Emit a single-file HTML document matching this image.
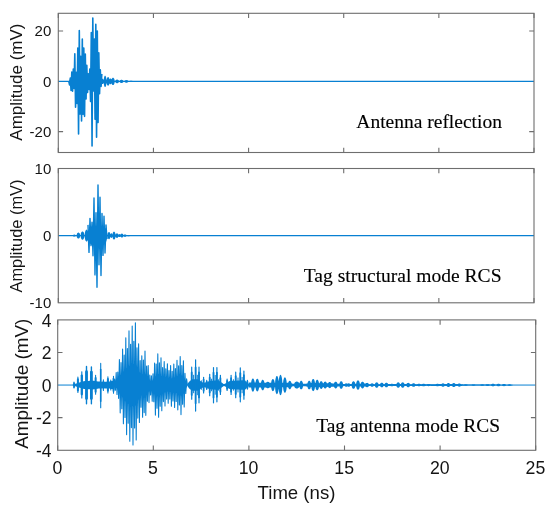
<!DOCTYPE html>
<html><head><meta charset="utf-8"><title>Antenna reflection and tag RCS</title><style>
html,body{margin:0;padding:0;background:#fff;}
svg{display:block;}
</style></head><body>
<svg width="550" height="509" viewBox="0 0 550 509">
<rect width="550" height="509" fill="#fff"/>
<path d="M58.30,81.40H534.00" stroke="#0880D2" stroke-width="1.2" fill="none"/>
<path d="M101.40,81.40 101.60,79.91 101.80,79.39 102.00,79.06 102.20,78.85 102.40,78.74 102.60,78.70 102.80,78.74 103.00,78.85 103.20,79.06 103.40,79.39 103.60,79.91 103.80,79.28 104.00,77.87 104.20,77.03 104.40,76.46 104.60,76.08 104.80,75.83 105.00,75.71 105.20,75.71 105.40,75.83 105.60,76.08 105.80,76.46 106.00,77.03 106.20,77.87 106.40,79.28 106.60,79.90 106.80,78.89 107.00,78.28 107.20,77.84 107.40,77.53 107.60,77.32 107.80,77.18 108.00,77.11 108.20,77.11 108.40,77.18 108.60,77.32 108.80,77.53 109.00,77.84 109.20,78.28 109.40,78.89 109.60,79.31 109.80,78.96 110.00,78.72 110.20,78.58 110.40,78.51 110.60,78.51 110.80,78.58 111.00,78.72 111.20,78.96 111.40,79.31 111.60,79.30 111.80,78.78 112.00,78.41 112.20,78.14 112.40,77.94 112.60,77.80 112.80,77.73 113.00,77.70 113.20,77.73 113.40,77.80 113.60,77.94 113.80,78.14 114.00,78.41 114.20,78.78 114.40,79.30 114.60,80.15 114.80,81.40 114.80,81.40 114.60,82.65 114.40,83.50 114.20,84.02 114.00,84.39 113.80,84.66 113.60,84.86 113.40,85.00 113.20,85.07 113.00,85.10 112.80,85.07 112.60,85.00 112.40,84.86 112.20,84.66 112.00,84.39 111.80,84.02 111.60,83.50 111.40,83.49 111.20,83.84 111.00,84.08 110.80,84.22 110.60,84.29 110.40,84.29 110.20,84.22 110.00,84.08 109.80,83.84 109.60,83.49 109.40,83.91 109.20,84.52 109.00,84.96 108.80,85.27 108.60,85.48 108.40,85.62 108.20,85.69 108.00,85.69 107.80,85.62 107.60,85.48 107.40,85.27 107.20,84.96 107.00,84.52 106.80,83.91 106.60,82.90 106.40,83.52 106.20,84.93 106.00,85.77 105.80,86.34 105.60,86.72 105.40,86.97 105.20,87.09 105.00,87.09 104.80,86.97 104.60,86.72 104.40,86.34 104.20,85.77 104.00,84.93 103.80,83.52 103.60,82.89 103.40,83.41 103.20,83.74 103.00,83.95 102.80,84.06 102.60,84.10 102.40,84.06 102.20,83.95 102.00,83.74 101.80,83.41 101.60,82.89 101.40,81.40ZM115.20,81.40 115.40,80.60 115.60,80.30 115.80,80.09 116.00,79.93 116.20,79.81 116.40,79.73 116.60,79.66 116.80,79.62 117.00,79.60 117.20,79.60 117.40,79.62 117.60,79.66 117.80,79.73 118.00,79.81 118.20,79.93 118.40,80.09 118.60,80.30 118.80,80.60 119.00,81.40 119.00,81.40 118.80,82.20 118.60,82.50 118.40,82.71 118.20,82.87 118.00,82.99 117.80,83.07 117.60,83.14 117.40,83.18 117.20,83.20 117.00,83.20 116.80,83.18 116.60,83.14 116.40,83.07 116.20,82.99 116.00,82.87 115.80,82.71 115.60,82.50 115.40,82.20 115.20,81.40ZM119.40,81.40 119.60,80.90 119.80,80.56 120.00,80.34 120.20,80.18 120.40,80.06 120.60,79.97 120.80,79.90 121.00,79.85 121.20,79.82 121.40,79.80 121.60,79.80 121.80,79.82 122.00,79.85 122.20,79.90 122.40,79.97 122.60,80.06 122.80,80.18 123.00,80.34 123.20,80.56 123.40,80.90 123.60,81.40 123.60,81.40 123.40,81.90 123.20,82.24 123.00,82.46 122.80,82.62 122.60,82.74 122.40,82.83 122.20,82.90 122.00,82.95 121.80,82.98 121.60,83.00 121.40,83.00 121.20,82.98 121.00,82.95 120.80,82.90 120.60,82.83 120.40,82.74 120.20,82.62 120.00,82.46 119.80,82.24 119.60,81.90 119.40,81.40ZM124.40,81.40 124.60,80.83 124.80,80.62 125.00,80.47 125.20,80.36 125.40,80.27 125.60,80.21 125.80,80.16 126.00,80.13 126.20,80.11 126.40,80.10 126.60,80.11 126.80,80.13 127.00,80.16 127.20,80.21 127.40,80.27 127.60,80.36 127.80,80.47 128.00,80.62 128.20,80.83 128.40,81.40 128.40,81.40 128.20,81.97 128.00,82.18 127.80,82.33 127.60,82.44 127.40,82.53 127.20,82.59 127.00,82.64 126.80,82.67 126.60,82.69 126.40,82.70 126.20,82.69 126.00,82.67 125.80,82.64 125.60,82.59 125.40,82.53 125.20,82.44 125.00,82.33 124.80,82.18 124.60,81.97 124.40,81.40ZM129.00,81.40 129.20,81.09 129.40,80.98 129.60,80.90 129.80,80.84 130.00,80.79 130.20,80.76 130.40,80.73 130.60,80.71 130.80,80.70 131.00,80.70 131.20,80.70 131.40,80.71 131.60,80.73 131.80,80.76 132.00,80.79 132.20,80.84 132.40,80.90 132.60,80.98 132.80,81.09 133.00,81.40 133.00,81.40 132.80,81.71 132.60,81.82 132.40,81.90 132.20,81.96 132.00,82.01 131.80,82.04 131.60,82.07 131.40,82.09 131.20,82.10 131.00,82.10 130.80,82.10 130.60,82.09 130.40,82.07 130.20,82.04 130.00,82.01 129.80,81.96 129.60,81.90 129.40,81.82 129.20,81.71 129.00,81.40Z" fill="#0880D2"/>
<path d="M68.80,81.40 69.05,81.29 69.30,80.72 69.55,80.16 69.80,79.59 70.05,79.02 70.30,78.46 70.55,77.97 70.80,77.78 71.05,77.59 71.30,77.40 71.55,77.21 71.80,77.02 72.05,76.84 72.30,76.65 72.55,76.46 72.80,76.27 73.05,76.08 73.30,75.89 73.55,75.68 73.80,75.38 74.05,75.08 74.30,74.78 74.55,74.47 74.80,74.17 75.05,73.90 75.30,73.73 75.55,73.56 75.80,73.39 76.05,73.25 76.30,73.25 76.55,73.25 76.80,73.25 77.05,73.25 77.30,73.25 77.55,73.25 77.80,73.25 78.05,73.25 78.30,73.25 78.55,73.25 78.80,73.25 79.05,73.25 79.30,73.25 79.55,73.25 79.80,73.25 80.05,73.25 80.30,73.25 80.55,73.25 80.80,73.25 81.05,73.25 81.30,73.25 81.55,73.25 81.80,73.25 82.05,73.25 82.30,73.25 82.55,73.25 82.80,73.25 83.05,73.25 83.30,73.25 83.55,73.25 83.80,73.25 84.05,73.25 84.30,73.25 84.55,73.25 84.80,73.25 85.05,73.25 85.30,73.25 85.55,73.25 85.80,73.25 86.05,73.28 86.30,73.41 86.55,73.55 86.80,73.69 87.05,73.82 87.30,73.96 87.55,74.09 87.80,74.23 88.05,74.37 88.30,74.50 88.55,74.58 88.80,74.41 89.05,74.24 89.30,74.07 89.55,73.90 89.80,73.73 90.05,73.56 90.30,73.39 90.55,73.24 90.80,73.20 91.05,73.16 91.30,73.12 91.55,73.08 91.80,73.04 92.05,73.00 92.30,72.96 92.55,72.91 92.80,72.87 93.05,72.83 93.30,72.79 93.55,72.75 93.80,72.71 94.05,72.67 94.30,72.63 94.55,72.58 94.80,72.54 95.05,72.50 95.30,72.46 95.55,72.42 95.80,72.38 96.05,72.38 96.30,72.54 96.55,72.70 96.80,72.86 97.05,73.03 97.30,73.19 97.55,73.35 97.80,73.51 98.05,73.67 98.30,73.83 98.55,74.00 98.80,74.16 99.05,74.32 99.30,74.48 99.55,74.68 99.80,75.06 100.05,75.44 100.30,75.82 100.55,76.19 100.80,76.57 101.05,76.96 101.30,77.42 101.55,77.87 101.80,78.32 102.05,78.73 102.30,78.96 102.30,83.84 102.05,84.07 101.80,84.48 101.55,84.93 101.30,85.38 101.05,85.84 100.80,86.23 100.55,86.61 100.30,86.98 100.05,87.36 99.80,87.74 99.55,88.12 99.30,88.32 99.05,88.48 98.80,88.64 98.55,88.80 98.30,88.97 98.05,89.13 97.80,89.29 97.55,89.45 97.30,89.61 97.05,89.77 96.80,89.94 96.55,90.10 96.30,90.26 96.05,90.42 95.80,90.42 95.55,90.38 95.30,90.34 95.05,90.30 94.80,90.26 94.55,90.22 94.30,90.17 94.05,90.13 93.80,90.09 93.55,90.05 93.30,90.01 93.05,89.97 92.80,89.93 92.55,89.89 92.30,89.84 92.05,89.80 91.80,89.76 91.55,89.72 91.30,89.68 91.05,89.64 90.80,89.60 90.55,89.56 90.30,89.41 90.05,89.24 89.80,89.07 89.55,88.90 89.30,88.73 89.05,88.56 88.80,88.39 88.55,88.22 88.30,88.30 88.05,88.43 87.80,88.57 87.55,88.71 87.30,88.84 87.05,88.98 86.80,89.11 86.55,89.25 86.30,89.39 86.05,89.52 85.80,89.55 85.55,89.55 85.30,89.55 85.05,89.55 84.80,89.55 84.55,89.55 84.30,89.55 84.05,89.55 83.80,89.55 83.55,89.55 83.30,89.55 83.05,89.55 82.80,89.55 82.55,89.55 82.30,89.55 82.05,89.55 81.80,89.55 81.55,89.55 81.30,89.55 81.05,89.55 80.80,89.55 80.55,89.55 80.30,89.55 80.05,89.55 79.80,89.55 79.55,89.55 79.30,89.55 79.05,89.55 78.80,89.55 78.55,89.55 78.30,89.55 78.05,89.55 77.80,89.55 77.55,89.55 77.30,89.55 77.05,89.55 76.80,89.55 76.55,89.55 76.30,89.55 76.05,89.55 75.80,89.41 75.55,89.24 75.30,89.07 75.05,88.90 74.80,88.63 74.55,88.33 74.30,88.02 74.05,87.72 73.80,87.42 73.55,87.12 73.30,86.91 73.05,86.72 72.80,86.53 72.55,86.34 72.30,86.15 72.05,85.96 71.80,85.78 71.55,85.59 71.30,85.40 71.05,85.21 70.80,85.02 70.55,84.83 70.30,84.34 70.05,83.78 69.80,83.21 69.55,82.64 69.30,82.08 69.05,81.51 68.80,81.40Z" fill="#0880D2"/><polyline points="68.80,81.40 69.55,84.92 70.30,78.13 71.05,90.45 71.80,72.09 72.55,91.21 73.30,69.08 74.05,88.43 74.80,53.73 75.55,107.30 76.30,72.35 77.05,103.53 77.80,47.95 78.55,133.96 79.30,30.60 80.05,114.09 80.80,56.25 81.55,120.89 82.30,39.15 83.05,114.35 83.80,47.95 84.55,116.36 85.30,53.99 86.05,99.01 86.80,65.30 87.55,92.47 88.30,73.73 89.05,89.36 89.80,69.08 90.55,101.52 91.30,32.61 92.05,146.04 92.80,18.02 93.55,91.01 94.30,39.15 95.05,119.12 95.80,24.31 96.55,137.23 97.30,31.10 98.05,122.39 98.80,52.73 99.55,93.72 100.30,69.83 101.05,86.33 101.80,73.86" fill="none" stroke="#0880D2" stroke-width="1.6" stroke-linejoin="round"/>
<path d="M58.30,235.60H534.00" stroke="#0880D2" stroke-width="1.2" fill="none"/>
<path d="M72.80,235.60 73.00,235.10 73.20,234.92 73.40,234.80 73.60,234.72 73.80,234.66 74.00,234.62 74.20,234.60 74.40,234.60 74.60,234.62 74.80,234.66 75.00,234.72 75.20,234.80 75.40,234.92 75.60,235.10 75.80,235.60 75.80,235.60 75.60,236.10 75.40,236.28 75.20,236.40 75.00,236.48 74.80,236.54 74.60,236.58 74.40,236.60 74.20,236.60 74.00,236.58 73.80,236.54 73.60,236.48 73.40,236.40 73.20,236.28 73.00,236.10 72.80,235.60ZM76.60,235.60 76.80,234.23 77.00,233.71 77.20,233.36 77.40,233.11 77.60,232.91 77.80,232.77 78.00,232.68 78.20,232.62 78.40,232.60 78.60,232.62 78.80,232.68 79.00,232.77 79.20,232.91 79.40,233.11 79.60,233.36 79.80,233.71 80.00,234.23 80.20,235.60 80.20,235.60 80.00,236.97 79.80,237.49 79.60,237.84 79.40,238.09 79.20,238.29 79.00,238.43 78.80,238.52 78.60,238.58 78.40,238.60 78.20,238.58 78.00,238.52 77.80,238.43 77.60,238.29 77.40,238.09 77.20,237.84 77.00,237.49 76.80,236.97 76.60,235.60ZM80.60,235.60 80.80,233.77 81.00,233.08 81.20,232.61 81.40,232.26 81.60,231.99 81.80,231.79 82.00,231.64 82.20,231.55 82.40,231.51 82.60,231.51 82.80,231.55 83.00,231.64 83.20,231.79 83.40,231.99 83.60,232.26 83.80,232.61 84.00,233.08 84.20,233.77 84.40,235.60 84.40,235.60 84.20,237.43 84.00,238.12 83.80,238.59 83.60,238.94 83.40,239.21 83.20,239.41 83.00,239.56 82.80,239.65 82.60,239.69 82.40,239.69 82.20,239.65 82.00,239.56 81.80,239.41 81.60,239.21 81.40,238.94 81.20,238.59 81.00,238.12 80.80,237.43 80.60,235.60ZM84.60,235.60 84.80,233.68 85.00,232.36 85.20,231.54 85.40,230.95 85.60,230.50 85.80,230.16 86.00,229.91 86.20,229.73 86.40,229.63 86.60,229.60 86.80,229.63 87.00,229.73 87.20,229.91 87.40,230.16 87.60,230.50 87.80,230.95 88.00,231.54 88.20,232.36 88.40,233.68 88.60,235.60 88.60,235.60 88.40,237.52 88.20,238.84 88.00,239.66 87.80,240.25 87.60,240.70 87.40,241.04 87.20,241.29 87.00,241.47 86.80,241.57 86.60,241.60 86.40,241.57 86.20,241.47 86.00,241.29 85.80,241.04 85.60,240.70 85.40,240.25 85.20,239.66 85.00,238.84 84.80,237.52 84.60,235.60ZM107.60,235.60 107.80,234.18 108.00,233.24 108.20,232.68 108.40,232.32 108.60,232.08 108.80,231.94 109.00,231.90 109.20,231.94 109.40,232.08 109.60,232.32 109.80,232.68 110.00,233.24 110.20,234.18 110.40,234.08 110.60,233.73 110.80,233.51 111.00,233.37 111.20,233.31 111.40,233.31 111.60,233.37 111.80,233.51 112.00,233.73 112.20,234.08 112.40,234.68 112.60,233.66 112.80,232.95 113.00,232.48 113.20,232.14 113.40,231.89 113.60,231.73 113.80,231.63 114.00,231.60 114.20,231.63 114.40,231.73 114.60,231.89 114.80,232.14 115.00,232.48 115.20,232.95 115.40,233.66 115.60,234.77 115.80,234.22 116.00,233.89 116.20,233.65 116.40,233.49 116.60,233.38 116.80,233.32 117.00,233.30 117.20,233.32 117.40,233.38 117.60,233.49 117.80,233.65 118.00,233.89 118.20,234.22 118.40,234.77 118.60,234.52 118.80,234.34 119.00,234.22 119.20,234.14 119.40,234.10 119.60,234.10 119.80,234.14 120.00,234.22 120.20,234.34 120.40,234.52 120.60,234.60 120.80,234.24 121.00,234.00 121.20,233.83 121.40,233.71 121.60,233.64 121.80,233.60 122.00,233.60 122.20,233.64 122.40,233.71 122.60,233.83 122.80,234.00 123.00,234.24 123.20,234.60 123.40,235.60 123.40,235.60 123.20,236.60 123.00,236.96 122.80,237.20 122.60,237.37 122.40,237.49 122.20,237.56 122.00,237.60 121.80,237.60 121.60,237.56 121.40,237.49 121.20,237.37 121.00,237.20 120.80,236.96 120.60,236.60 120.40,236.68 120.20,236.86 120.00,236.98 119.80,237.06 119.60,237.10 119.40,237.10 119.20,237.06 119.00,236.98 118.80,236.86 118.60,236.68 118.40,236.43 118.20,236.98 118.00,237.31 117.80,237.55 117.60,237.71 117.40,237.82 117.20,237.88 117.00,237.90 116.80,237.88 116.60,237.82 116.40,237.71 116.20,237.55 116.00,237.31 115.80,236.98 115.60,236.43 115.40,237.54 115.20,238.25 115.00,238.72 114.80,239.06 114.60,239.31 114.40,239.47 114.20,239.57 114.00,239.60 113.80,239.57 113.60,239.47 113.40,239.31 113.20,239.06 113.00,238.72 112.80,238.25 112.60,237.54 112.40,236.52 112.20,237.12 112.00,237.47 111.80,237.69 111.60,237.83 111.40,237.89 111.20,237.89 111.00,237.83 110.80,237.69 110.60,237.47 110.40,237.12 110.20,237.02 110.00,237.96 109.80,238.52 109.60,238.88 109.40,239.12 109.20,239.26 109.00,239.30 108.80,239.26 108.60,239.12 108.40,238.88 108.20,238.52 108.00,237.96 107.80,237.02 107.60,235.60ZM123.40,235.60 123.60,235.02 123.80,234.81 124.00,234.66 124.20,234.56 124.40,234.49 124.60,234.44 124.80,234.41 125.00,234.40 125.20,234.41 125.40,234.44 125.60,234.49 125.80,234.56 126.00,234.66 126.20,234.81 126.40,235.02 126.60,235.60 126.60,235.60 126.40,236.18 126.20,236.39 126.00,236.54 125.80,236.64 125.60,236.71 125.40,236.76 125.20,236.79 125.00,236.80 124.80,236.79 124.60,236.76 124.40,236.71 124.20,236.64 124.00,236.54 123.80,236.39 123.60,236.18 123.40,235.60ZM126.80,235.60 127.00,235.36 127.20,235.19 127.40,235.09 127.60,235.02 127.80,234.97 128.00,234.94 128.20,234.91 128.40,234.90 128.60,234.90 128.80,234.91 129.00,234.94 129.20,234.97 129.40,235.02 129.60,235.09 129.80,235.19 130.00,235.36 130.20,235.60 130.20,235.60 130.00,235.84 129.80,236.01 129.60,236.11 129.40,236.18 129.20,236.23 129.00,236.26 128.80,236.29 128.60,236.30 128.40,236.30 128.20,236.29 128.00,236.26 127.80,236.23 127.60,236.18 127.40,236.11 127.20,236.01 127.00,235.84 126.80,235.60Z" fill="#0880D2"/>
<path d="M88.00,235.60 88.25,233.71 88.50,231.82 88.75,229.93 89.00,229.28 89.25,228.94 89.50,228.60 89.75,228.25 90.00,227.91 90.25,227.56 90.50,227.22 90.75,226.88 91.00,226.53 91.25,226.53 91.50,226.53 91.75,226.53 92.00,226.53 92.25,226.53 92.50,226.53 92.75,226.53 93.00,226.53 93.25,226.53 93.50,226.53 93.75,226.53 94.00,226.53 94.25,226.53 94.50,226.53 94.75,226.53 95.00,226.53 95.25,226.53 95.50,226.53 95.75,226.53 96.00,226.53 96.25,226.53 96.50,226.53 96.75,226.53 97.00,226.53 97.25,226.53 97.50,226.53 97.75,226.53 98.00,226.53 98.25,226.53 98.50,226.53 98.75,226.53 99.00,226.53 99.25,226.53 99.50,226.53 99.75,226.53 100.00,226.53 100.25,226.53 100.50,226.53 100.75,226.53 101.00,226.53 101.25,226.53 101.50,226.53 101.75,226.53 102.00,226.53 102.25,226.53 102.50,226.53 102.75,226.53 103.00,226.53 103.25,226.53 103.50,226.53 103.75,226.53 104.00,226.53 104.25,226.84 104.50,227.14 104.75,227.44 105.00,227.74 105.25,228.05 105.50,228.35 105.75,228.65 106.00,228.95 106.25,229.86 106.50,230.77 106.75,231.67 107.00,232.58 107.25,233.33 107.50,234.09 107.50,237.11 107.25,237.87 107.00,238.62 106.75,239.53 106.50,240.43 106.25,241.34 106.00,242.25 105.75,242.55 105.50,242.85 105.25,243.15 105.00,243.46 104.75,243.76 104.50,244.06 104.25,244.36 104.00,244.67 103.75,244.67 103.50,244.67 103.25,244.67 103.00,244.67 102.75,244.67 102.50,244.67 102.25,244.67 102.00,244.67 101.75,244.67 101.50,244.67 101.25,244.67 101.00,244.67 100.75,244.67 100.50,244.67 100.25,244.67 100.00,244.67 99.75,244.67 99.50,244.67 99.25,244.67 99.00,244.67 98.75,244.67 98.50,244.67 98.25,244.67 98.00,244.67 97.75,244.67 97.50,244.67 97.25,244.67 97.00,244.67 96.75,244.67 96.50,244.67 96.25,244.67 96.00,244.67 95.75,244.67 95.50,244.67 95.25,244.67 95.00,244.67 94.75,244.67 94.50,244.67 94.25,244.67 94.00,244.67 93.75,244.67 93.50,244.67 93.25,244.67 93.00,244.67 92.75,244.67 92.50,244.67 92.25,244.67 92.00,244.67 91.75,244.67 91.50,244.67 91.25,244.67 91.00,244.67 90.75,244.32 90.50,243.98 90.25,243.64 90.00,243.29 89.75,242.95 89.50,242.60 89.25,242.26 89.00,241.92 88.75,241.27 88.50,239.38 88.25,237.49 88.00,235.60Z" fill="#0880D2"/><polyline points="88.00,224.86 89.00,252.39 90.00,218.34 91.00,245.67 92.00,222.17 93.00,255.75 94.00,198.00 95.00,274.88 96.00,212.77 97.00,287.31 98.00,184.90 99.00,264.81 100.00,197.32 101.00,275.55 102.00,213.44 103.00,255.41 104.00,216.13 105.00,253.06 106.00,224.86 107.00,238.96" fill="none" stroke="#0880D2" stroke-width="1.4" stroke-linejoin="round"/>
<path d="M57.70,385.05H535.70" stroke="#0880D2" stroke-width="1.0" fill="none"/>
<path d="M251.00,385.05 251.20,382.10 251.40,381.00 251.60,380.24 251.80,379.67 252.00,379.24 252.20,378.91 252.40,378.68 252.60,378.53 252.80,378.46 253.00,378.46 253.20,378.53 253.40,378.68 253.60,378.91 253.80,379.24 254.00,379.67 254.20,380.24 254.40,381.00 254.60,382.10 254.80,385.05 254.80,385.05 254.60,388.00 254.40,389.10 254.20,389.86 254.00,390.43 253.80,390.86 253.60,391.19 253.40,391.42 253.20,391.57 253.00,391.64 252.80,391.64 252.60,391.57 252.40,391.42 252.20,391.19 252.00,390.86 251.80,390.43 251.60,389.86 251.40,389.10 251.20,388.00 251.00,385.05ZM255.40,385.05 255.60,382.19 255.80,381.12 256.00,380.38 256.20,379.83 256.40,379.41 256.60,379.10 256.80,378.88 257.00,378.73 257.20,378.66 257.40,378.66 257.60,378.73 257.80,378.88 258.00,379.10 258.20,379.41 258.40,379.83 258.60,380.38 258.80,381.12 259.00,382.19 259.20,385.05 259.20,385.05 259.00,387.91 258.80,388.98 258.60,389.72 258.40,390.27 258.20,390.69 258.00,391.00 257.80,391.22 257.60,391.37 257.40,391.44 257.20,391.44 257.00,391.37 256.80,391.22 256.60,391.00 256.40,390.69 256.20,390.27 256.00,389.72 255.80,388.98 255.60,387.91 255.40,385.05ZM260.80,385.05 261.00,382.68 261.20,381.80 261.40,381.18 261.60,380.73 261.80,380.38 262.00,380.12 262.20,379.94 262.40,379.82 262.60,379.76 262.80,379.76 263.00,379.82 263.20,379.94 263.40,380.12 263.60,380.38 263.80,380.73 264.00,381.18 264.20,381.80 264.40,382.68 264.60,385.05 264.60,385.05 264.40,387.42 264.20,388.30 264.00,388.92 263.80,389.37 263.60,389.72 263.40,389.98 263.20,390.16 263.00,390.28 262.80,390.34 262.60,390.34 262.40,390.28 262.20,390.16 262.00,389.98 261.80,389.72 261.60,389.37 261.40,388.92 261.20,388.30 261.00,387.42 260.80,385.05ZM265.60,385.05 265.80,383.68 266.00,383.15 266.20,382.79 266.40,382.50 266.60,382.28 266.80,382.11 267.00,381.98 267.20,381.88 267.40,381.81 267.60,381.76 267.80,381.75 268.00,381.76 268.20,381.81 268.40,381.88 268.60,381.98 268.80,382.11 269.00,382.28 269.20,382.50 269.40,382.79 269.60,383.15 269.80,383.68 270.00,385.05 270.00,385.05 269.80,386.42 269.60,386.95 269.40,387.31 269.20,387.60 269.00,387.82 268.80,387.99 268.60,388.12 268.40,388.22 268.20,388.29 268.00,388.34 267.80,388.35 267.60,388.34 267.40,388.29 267.20,388.22 267.00,388.12 266.80,387.99 266.60,387.82 266.40,387.60 266.20,387.31 266.00,386.95 265.80,386.42 265.60,385.05ZM271.00,385.05 271.20,382.33 271.40,381.31 271.60,380.60 271.80,380.08 272.00,379.68 272.20,379.38 272.40,379.17 272.60,379.03 272.80,378.96 273.00,378.96 273.20,379.03 273.40,379.17 273.60,379.38 273.80,379.68 274.00,380.08 274.20,380.60 274.40,381.31 274.60,382.33 274.80,385.05 274.80,385.05 274.60,387.77 274.40,388.79 274.20,389.50 274.00,390.02 273.80,390.42 273.60,390.72 273.40,390.93 273.20,391.07 273.00,391.14 272.80,391.14 272.60,391.07 272.40,390.93 272.20,390.72 272.00,390.42 271.80,390.02 271.60,389.50 271.40,388.79 271.20,387.77 271.00,385.05ZM275.00,385.05 275.20,380.99 275.40,379.46 275.60,378.41 275.80,377.63 276.00,377.04 276.20,376.59 276.40,376.27 276.60,376.06 276.80,375.96 277.00,375.96 277.20,376.06 277.40,376.27 277.60,376.59 277.80,377.04 278.00,377.63 278.20,378.41 278.40,379.46 278.60,380.99 278.80,380.49 279.00,378.79 279.20,377.61 279.40,376.73 279.60,376.07 279.80,375.57 280.00,375.21 280.20,374.98 280.40,374.86 280.60,374.86 280.80,374.98 281.00,375.21 281.20,375.57 281.40,376.07 281.60,376.73 281.80,377.61 282.00,378.79 282.20,380.49 282.40,385.05 282.40,385.05 282.20,389.61 282.00,391.31 281.80,392.49 281.60,393.37 281.40,394.03 281.20,394.53 281.00,394.89 280.80,395.12 280.60,395.24 280.40,395.24 280.20,395.12 280.00,394.89 279.80,394.53 279.60,394.03 279.40,393.37 279.20,392.49 279.00,391.31 278.80,389.61 278.60,389.11 278.40,390.64 278.20,391.69 278.00,392.47 277.80,393.06 277.60,393.51 277.40,393.83 277.20,394.04 277.00,394.14 276.80,394.14 276.60,394.04 276.40,393.83 276.20,393.51 276.00,393.06 275.80,392.47 275.60,391.69 275.40,390.64 275.20,389.11 275.00,385.05ZM283.00,385.05 283.20,381.61 283.40,380.32 283.60,379.43 283.80,378.77 284.00,378.27 284.20,377.89 284.40,377.62 284.60,377.45 284.80,377.36 285.00,377.36 285.20,377.45 285.40,377.62 285.60,377.89 285.80,378.27 286.00,378.77 286.20,379.43 286.40,380.32 286.60,381.61 286.80,385.05 286.80,385.05 286.60,388.49 286.40,389.78 286.20,390.67 286.00,391.33 285.80,391.83 285.60,392.21 285.40,392.48 285.20,392.65 285.00,392.74 284.80,392.74 284.60,392.65 284.40,392.48 284.20,392.21 284.00,391.83 283.80,391.33 283.60,390.67 283.40,389.78 283.20,388.49 283.00,385.05ZM287.80,385.05 288.00,383.71 288.20,382.78 288.40,382.21 288.60,381.79 288.80,381.48 289.00,381.24 289.20,381.06 289.40,380.94 289.60,380.87 289.80,380.85 290.00,380.87 290.20,380.94 290.40,381.06 290.60,381.24 290.80,381.48 291.00,381.79 291.20,382.21 291.40,382.78 291.60,383.71 291.80,385.05 291.80,385.05 291.60,386.39 291.40,387.32 291.20,387.89 291.00,388.31 290.80,388.62 290.60,388.86 290.40,389.04 290.20,389.16 290.00,389.23 289.80,389.25 289.60,389.23 289.40,389.16 289.20,389.04 289.00,388.86 288.80,388.62 288.60,388.31 288.40,387.89 288.20,387.32 288.00,386.39 287.80,385.05ZM294.00,385.05 294.20,383.75 294.40,383.25 294.60,382.88 294.80,382.60 295.00,382.37 295.20,382.18 295.40,382.02 295.60,381.89 295.80,381.78 296.00,381.70 296.20,381.63 296.40,381.59 296.60,381.56 296.80,381.55 297.00,381.56 297.20,381.59 297.40,381.63 297.60,381.70 297.80,381.78 298.00,381.89 298.20,382.02 298.40,382.18 298.60,382.37 298.80,382.60 299.00,382.88 299.20,383.25 299.40,383.67 299.60,382.73 299.80,382.14 300.00,381.72 300.20,381.39 300.40,381.15 300.60,380.97 300.80,380.85 301.00,380.77 301.20,380.75 301.40,380.77 301.60,380.85 301.80,380.97 302.00,381.15 302.20,381.39 302.40,381.72 302.60,382.14 302.80,382.73 303.00,383.67 303.20,385.05 303.20,385.05 303.00,386.43 302.80,387.37 302.60,387.96 302.40,388.38 302.20,388.71 302.00,388.95 301.80,389.13 301.60,389.25 301.40,389.33 301.20,389.35 301.00,389.33 300.80,389.25 300.60,389.13 300.40,388.95 300.20,388.71 300.00,388.38 299.80,387.96 299.60,387.37 299.40,386.43 299.20,386.85 299.00,387.22 298.80,387.50 298.60,387.73 298.40,387.92 298.20,388.08 298.00,388.21 297.80,388.32 297.60,388.40 297.40,388.47 297.20,388.51 297.00,388.54 296.80,388.55 296.60,388.54 296.40,388.51 296.20,388.47 296.00,388.40 295.80,388.32 295.60,388.21 295.40,388.08 295.20,387.92 295.00,387.73 294.80,387.50 294.60,387.22 294.40,386.85 294.20,386.35 294.00,385.05ZM307.20,385.05 307.40,383.67 307.60,382.73 307.80,382.14 308.00,381.72 308.20,381.39 308.40,381.15 308.60,380.97 308.80,380.85 309.00,380.77 309.20,380.75 309.40,380.77 309.60,380.85 309.80,380.97 310.00,381.15 310.20,381.39 310.40,381.72 310.60,382.14 310.80,382.73 311.00,383.67 311.20,385.05 311.20,385.05 311.00,386.43 310.80,387.37 310.60,387.96 310.40,388.38 310.20,388.71 310.00,388.95 309.80,389.13 309.60,389.25 309.40,389.33 309.20,389.35 309.00,389.33 308.80,389.25 308.60,389.13 308.40,388.95 308.20,388.71 308.00,388.38 307.80,387.96 307.60,387.37 307.40,386.43 307.20,385.05ZM311.20,385.05 311.40,383.10 311.60,381.76 311.80,380.93 312.00,380.32 312.20,379.86 312.40,379.52 312.60,379.26 312.80,379.09 313.00,378.98 313.20,378.95 313.40,378.98 313.60,379.09 313.80,379.26 314.00,379.52 314.20,379.86 314.40,380.32 314.60,380.93 314.80,381.76 315.00,383.10 315.20,385.05 315.20,385.05 315.00,387.00 314.80,388.34 314.60,389.17 314.40,389.78 314.20,390.24 314.00,390.58 313.80,390.84 313.60,391.01 313.40,391.12 313.20,391.15 313.00,391.12 312.80,391.01 312.60,390.84 312.40,390.58 312.20,390.24 312.00,389.78 311.80,389.17 311.60,388.34 311.40,387.00 311.20,385.05ZM315.20,385.05 315.40,383.35 315.60,382.19 315.80,381.47 316.00,380.94 316.20,380.54 316.40,380.24 316.60,380.02 316.80,379.87 317.00,379.78 317.20,379.75 317.40,379.78 317.60,379.87 317.80,380.02 318.00,380.24 318.20,380.54 318.40,380.94 318.60,381.47 318.80,382.19 319.00,383.35 319.20,385.05 319.20,385.05 319.00,386.75 318.80,387.91 318.60,388.63 318.40,389.16 318.20,389.56 318.00,389.86 317.80,390.08 317.60,390.23 317.40,390.32 317.20,390.35 317.00,390.32 316.80,390.23 316.60,390.08 316.40,389.86 316.20,389.56 316.00,389.16 315.80,388.63 315.60,387.91 315.40,386.75 315.20,385.05ZM319.20,385.05 319.40,383.80 319.60,382.95 319.80,382.41 320.00,382.03 320.20,381.73 320.40,381.51 320.60,381.35 320.80,381.24 321.00,381.17 321.20,381.15 321.40,381.17 321.60,381.24 321.80,381.35 322.00,381.51 322.20,381.73 322.40,382.03 322.60,382.41 322.80,382.95 323.00,383.80 323.20,385.05 323.20,385.05 323.00,386.30 322.80,387.15 322.60,387.69 322.40,388.07 322.20,388.37 322.00,388.59 321.80,388.75 321.60,388.86 321.40,388.93 321.20,388.95 321.00,388.93 320.80,388.86 320.60,388.75 320.40,388.59 320.20,388.37 320.00,388.07 319.80,387.69 319.60,387.15 319.40,386.30 319.20,385.05ZM323.20,385.05 323.40,383.93 323.60,383.16 323.80,382.68 324.00,382.34 324.20,382.07 324.40,381.88 324.60,381.73 324.80,381.63 325.00,381.57 325.20,381.55 325.40,381.57 325.60,381.63 325.80,381.73 326.00,381.88 326.20,382.07 326.40,382.34 326.60,382.68 326.80,383.16 327.00,383.93 327.20,385.05 327.20,385.05 327.00,386.17 326.80,386.94 326.60,387.42 326.40,387.76 326.20,388.03 326.00,388.22 325.80,388.37 325.60,388.47 325.40,388.53 325.20,388.55 325.00,388.53 324.80,388.47 324.60,388.37 324.40,388.22 324.20,388.03 324.00,387.76 323.80,387.42 323.60,386.94 323.40,386.17 323.20,385.05ZM327.80,385.05 328.00,383.67 328.20,383.15 328.40,382.79 328.60,382.52 328.80,382.32 329.00,382.17 329.20,382.06 329.40,381.99 329.60,381.95 329.80,381.95 330.00,381.99 330.20,382.06 330.40,382.17 330.60,382.32 330.80,382.52 331.00,382.79 331.20,383.15 331.40,383.67 331.60,385.05 331.60,385.05 331.40,386.43 331.20,386.95 331.00,387.31 330.80,387.58 330.60,387.78 330.40,387.93 330.20,388.04 330.00,388.11 329.80,388.15 329.60,388.15 329.40,388.11 329.20,388.04 329.00,387.93 328.80,387.78 328.60,387.58 328.40,387.31 328.20,386.95 328.00,386.43 327.80,385.05ZM333.80,385.05 334.00,383.53 334.20,382.96 334.40,382.57 334.60,382.28 334.80,382.06 335.00,381.89 335.20,381.77 335.40,381.69 335.60,381.65 335.80,381.65 336.00,381.69 336.20,381.77 336.40,381.89 336.60,382.06 336.80,382.28 337.00,382.57 337.20,382.96 337.40,383.53 337.60,385.05 337.60,385.05 337.40,386.57 337.20,387.14 337.00,387.53 336.80,387.82 336.60,388.04 336.40,388.21 336.20,388.33 336.00,388.41 335.80,388.45 335.60,388.45 335.40,388.41 335.20,388.33 335.00,388.21 334.80,388.04 334.60,387.82 334.40,387.53 334.20,387.14 334.00,386.57 333.80,385.05ZM339.20,385.05 339.40,383.83 339.60,383.00 339.80,382.48 340.00,382.10 340.20,381.82 340.40,381.60 340.60,381.44 340.80,381.34 341.00,381.27 341.20,381.25 341.40,381.27 341.60,381.34 341.80,381.44 342.00,381.60 342.20,381.82 342.40,382.10 342.60,382.48 342.80,383.00 343.00,383.83 343.20,385.05 343.20,385.05 343.00,386.27 342.80,387.10 342.60,387.62 342.40,388.00 342.20,388.28 342.00,388.50 341.80,388.66 341.60,388.76 341.40,388.83 341.20,388.85 341.00,388.83 340.80,388.76 340.60,388.66 340.40,388.50 340.20,388.28 340.00,388.00 339.80,387.62 339.60,387.10 339.40,386.27 339.20,385.05ZM344.20,385.05 344.40,384.51 344.60,384.13 344.80,383.90 345.00,383.73 345.20,383.60 345.40,383.51 345.60,383.44 345.80,383.39 346.00,383.36 346.20,383.35 346.40,383.36 346.60,383.39 346.80,383.44 347.00,383.51 347.20,383.60 347.40,383.73 347.60,383.66 347.80,383.55 348.00,383.47 348.20,383.41 348.40,383.37 348.60,383.35 348.80,383.35 349.00,383.37 349.20,383.41 349.40,383.47 349.60,383.55 349.80,383.66 350.00,383.81 350.20,384.01 350.40,384.29 350.60,385.05 350.60,385.05 350.40,385.81 350.20,386.09 350.00,386.29 349.80,386.44 349.60,386.55 349.40,386.63 349.20,386.69 349.00,386.73 348.80,386.75 348.60,386.75 348.40,386.73 348.20,386.69 348.00,386.63 347.80,386.55 347.60,386.44 347.40,386.37 347.20,386.50 347.00,386.59 346.80,386.66 346.60,386.71 346.40,386.74 346.20,386.75 346.00,386.74 345.80,386.71 345.60,386.66 345.40,386.59 345.20,386.50 345.00,386.37 344.80,386.20 344.60,385.97 344.40,385.59 344.20,385.05ZM351.60,385.05 351.80,383.35 352.00,382.72 352.20,382.28 352.40,381.95 352.60,381.70 352.80,381.52 353.00,381.38 353.20,381.30 353.40,381.26 353.60,381.26 353.80,381.30 354.00,381.38 354.20,381.52 354.40,381.70 354.60,381.95 354.80,382.28 355.00,382.72 355.20,383.35 355.40,385.05 355.40,385.05 355.20,386.75 355.00,387.38 354.80,387.82 354.60,388.15 354.40,388.40 354.20,388.58 354.00,388.72 353.80,388.80 353.60,388.84 353.40,388.84 353.20,388.80 353.00,388.72 352.80,388.58 352.60,388.40 352.40,388.15 352.20,387.82 352.00,387.38 351.80,386.75 351.60,385.05ZM356.00,385.05 356.20,383.55 356.40,382.52 356.60,381.87 356.80,381.41 357.00,381.05 357.20,380.79 357.40,380.59 357.60,380.46 357.80,380.38 358.00,380.35 358.20,380.38 358.40,380.46 358.60,380.59 358.80,380.79 359.00,381.05 359.20,381.41 359.40,381.87 359.60,382.52 359.80,383.55 360.00,385.05 360.00,385.05 359.80,386.55 359.60,387.58 359.40,388.23 359.20,388.69 359.00,389.05 358.80,389.31 358.60,389.51 358.40,389.64 358.20,389.72 358.00,389.75 357.80,389.72 357.60,389.64 357.40,389.51 357.20,389.31 357.00,389.05 356.80,388.69 356.60,388.23 356.40,387.58 356.20,386.55 356.00,385.05ZM360.60,385.05 360.80,383.53 361.00,382.96 361.20,382.57 361.40,382.28 361.60,382.06 361.80,381.89 362.00,381.77 362.20,381.69 362.40,381.65 362.60,381.65 362.80,381.69 363.00,381.77 363.20,381.89 363.40,382.06 363.60,382.28 363.80,382.57 364.00,382.96 364.20,383.53 364.40,385.05 364.40,385.05 364.20,386.57 364.00,387.14 363.80,387.53 363.60,387.82 363.40,388.04 363.20,388.21 363.00,388.33 362.80,388.41 362.60,388.45 362.40,388.45 362.20,388.41 362.00,388.33 361.80,388.21 361.60,388.04 361.40,387.82 361.20,387.53 361.00,387.14 360.80,386.57 360.60,385.05ZM365.20,385.05 365.40,384.07 365.60,383.70 365.80,383.45 366.00,383.26 366.20,383.11 366.40,383.00 366.60,382.93 366.80,382.88 367.00,382.85 367.20,382.85 367.40,382.88 367.60,382.93 367.80,383.00 368.00,383.11 368.20,383.26 368.40,383.45 368.60,383.70 368.80,384.07 369.00,385.05 369.00,385.05 368.80,386.03 368.60,386.40 368.40,386.65 368.20,386.84 368.00,386.99 367.80,387.10 367.60,387.17 367.40,387.22 367.20,387.25 367.00,387.25 366.80,387.22 366.60,387.17 366.40,387.10 366.20,386.99 366.00,386.84 365.80,386.65 365.60,386.40 365.40,386.03 365.20,385.05ZM370.20,385.05 370.40,384.29 370.60,384.01 370.80,383.81 371.00,383.66 371.20,383.55 371.40,383.47 371.60,383.41 371.80,383.37 372.00,383.35 372.20,383.35 372.40,383.37 372.60,383.41 372.80,383.47 373.00,383.55 373.20,383.66 373.40,383.81 373.60,384.01 373.80,384.29 374.00,385.05 374.00,385.05 373.80,385.81 373.60,386.09 373.40,386.29 373.20,386.44 373.00,386.55 372.80,386.63 372.60,386.69 372.40,386.73 372.20,386.75 372.00,386.75 371.80,386.73 371.60,386.69 371.40,386.63 371.20,386.55 371.00,386.44 370.80,386.29 370.60,386.09 370.40,385.81 370.20,385.05ZM374.80,385.05 375.00,383.84 375.20,383.39 375.40,383.08 375.60,382.85 375.80,382.67 376.00,382.54 376.20,382.45 376.40,382.38 376.60,382.35 376.80,382.35 377.00,382.38 377.20,382.45 377.40,382.54 377.60,382.67 377.80,382.85 378.00,383.08 378.20,383.39 378.40,383.84 378.60,385.05 378.60,385.05 378.40,386.26 378.20,386.71 378.00,387.02 377.80,387.25 377.60,387.43 377.40,387.56 377.20,387.65 377.00,387.72 376.80,387.75 376.60,387.75 376.40,387.72 376.20,387.65 376.00,387.56 375.80,387.43 375.60,387.25 375.40,387.02 375.20,386.71 375.00,386.26 374.80,385.05ZM379.80,385.05 380.00,384.31 380.20,383.81 380.40,383.50 380.60,383.27 380.80,383.09 381.00,382.96 381.20,382.87 381.40,382.80 381.60,382.76 381.80,382.75 382.00,382.76 382.20,382.80 382.40,382.87 382.60,382.96 382.80,383.09 383.00,383.27 383.20,383.50 383.40,383.81 383.60,384.31 383.80,385.05 383.80,385.05 383.60,385.79 383.40,386.29 383.20,386.60 383.00,386.83 382.80,387.01 382.60,387.14 382.40,387.23 382.20,387.30 382.00,387.34 381.80,387.35 381.60,387.34 381.40,387.30 381.20,387.23 381.00,387.14 380.80,387.01 380.60,386.83 380.40,386.60 380.20,386.29 380.00,385.79 379.80,385.05ZM384.40,385.05 384.60,384.31 384.80,383.81 385.00,383.50 385.20,383.27 385.40,383.09 385.60,382.96 385.80,382.87 386.00,382.80 386.20,382.76 386.40,382.75 386.60,382.76 386.80,382.80 387.00,382.87 387.20,382.96 387.40,383.09 387.60,383.27 387.80,383.50 388.00,383.81 388.20,384.31 388.40,385.05 388.40,385.05 388.20,385.79 388.00,386.29 387.80,386.60 387.60,386.83 387.40,387.01 387.20,387.14 387.00,387.23 386.80,387.30 386.60,387.34 386.40,387.35 386.20,387.34 386.00,387.30 385.80,387.23 385.60,387.14 385.40,387.01 385.20,386.83 385.00,386.60 384.80,386.29 384.60,385.79 384.40,385.05ZM389.80,385.05 390.00,384.63 390.20,384.35 390.40,384.17 390.60,384.04 390.80,383.94 391.00,383.87 391.20,383.82 391.40,383.78 391.60,383.76 391.80,383.75 392.00,383.76 392.20,383.78 392.40,383.82 392.60,383.87 392.80,383.94 393.00,384.04 393.20,384.17 393.40,384.35 393.60,384.63 393.80,385.05 393.80,385.05 393.60,385.47 393.40,385.75 393.20,385.93 393.00,386.06 392.80,386.16 392.60,386.23 392.40,386.28 392.20,386.32 392.00,386.34 391.80,386.35 391.60,386.34 391.40,386.32 391.20,386.28 391.00,386.23 390.80,386.16 390.60,386.06 390.40,385.93 390.20,385.75 390.00,385.47 389.80,385.05ZM396.20,385.05 396.40,384.19 396.60,383.59 396.80,383.22 397.00,382.96 397.20,382.75 397.40,382.60 397.60,382.49 397.80,382.41 398.00,382.37 398.20,382.35 398.40,382.37 398.60,382.41 398.80,382.49 399.00,382.60 399.20,382.75 399.40,382.96 399.60,383.22 399.80,383.59 400.00,384.19 400.20,385.05 400.20,385.05 400.00,385.91 399.80,386.51 399.60,386.88 399.40,387.14 399.20,387.35 399.00,387.50 398.80,387.61 398.60,387.69 398.40,387.73 398.20,387.75 398.00,387.73 397.80,387.69 397.60,387.61 397.40,387.50 397.20,387.35 397.00,387.14 396.80,386.88 396.60,386.51 396.40,385.91 396.20,385.05ZM400.80,385.05 401.00,383.84 401.20,383.39 401.40,383.08 401.60,382.85 401.80,382.67 402.00,382.54 402.20,382.45 402.40,382.38 402.60,382.35 402.80,382.35 403.00,382.38 403.20,382.45 403.40,382.54 403.60,382.67 403.80,382.85 404.00,383.08 404.20,383.39 404.40,383.84 404.60,385.05 404.60,385.05 404.40,386.26 404.20,386.71 404.00,387.02 403.80,387.25 403.60,387.43 403.40,387.56 403.20,387.65 403.00,387.72 402.80,387.75 402.60,387.75 402.40,387.72 402.20,387.65 402.00,387.56 401.80,387.43 401.60,387.25 401.40,387.02 401.20,386.71 401.00,386.26 400.80,385.05ZM406.20,385.05 406.40,384.35 406.60,383.86 406.80,383.56 407.00,383.34 407.20,383.18 407.40,383.05 407.60,382.96 407.80,382.90 408.00,382.86 408.20,382.85 408.40,382.86 408.60,382.90 408.80,382.96 409.00,383.05 409.20,383.18 409.40,383.34 409.60,383.56 409.80,383.86 410.00,384.35 410.20,385.05 410.20,385.05 410.00,385.75 409.80,386.24 409.60,386.54 409.40,386.76 409.20,386.92 409.00,387.05 408.80,387.14 408.60,387.20 408.40,387.24 408.20,387.25 408.00,387.24 407.80,387.20 407.60,387.14 407.40,387.05 407.20,386.92 407.00,386.76 406.80,386.54 406.60,386.24 406.40,385.75 406.20,385.05ZM411.60,385.05 411.80,384.47 412.00,384.08 412.20,383.83 412.40,383.65 412.60,383.52 412.80,383.42 413.00,383.34 413.20,383.29 413.40,383.26 413.60,383.25 413.80,383.26 414.00,383.29 414.20,383.34 414.40,383.42 414.60,383.52 414.80,383.65 415.00,383.83 415.20,384.08 415.40,384.47 415.60,385.05 415.60,385.05 415.40,385.63 415.20,386.02 415.00,386.27 414.80,386.45 414.60,386.58 414.40,386.68 414.20,386.76 414.00,386.81 413.80,386.84 413.60,386.85 413.40,386.84 413.20,386.81 413.00,386.76 412.80,386.68 412.60,386.58 412.40,386.45 412.20,386.27 412.00,386.02 411.80,385.63 411.60,385.05ZM417.00,385.05 417.20,384.63 417.40,384.35 417.60,384.17 417.80,384.04 418.00,383.94 418.20,383.87 418.40,383.82 418.60,383.78 418.80,383.76 419.00,383.75 419.20,383.76 419.40,383.78 419.60,383.82 419.80,383.87 420.00,383.94 420.20,384.04 420.40,384.17 420.60,384.35 420.80,384.63 421.00,385.05 421.00,385.05 420.80,385.47 420.60,385.75 420.40,385.93 420.20,386.06 420.00,386.16 419.80,386.23 419.60,386.28 419.40,386.32 419.20,386.34 419.00,386.35 418.80,386.34 418.60,386.32 418.40,386.28 418.20,386.23 418.00,386.16 417.80,386.06 417.60,385.93 417.40,385.75 417.20,385.47 417.00,385.05ZM421.60,385.05 421.80,384.63 422.00,384.35 422.20,384.17 422.40,384.04 422.60,383.94 422.80,383.87 423.00,383.82 423.20,383.78 423.40,383.76 423.60,383.75 423.80,383.76 424.00,383.78 424.20,383.82 424.40,383.87 424.60,383.94 424.80,384.04 425.00,384.17 425.20,384.35 425.40,384.63 425.60,385.05 425.60,385.05 425.40,385.47 425.20,385.75 425.00,385.93 424.80,386.06 424.60,386.16 424.40,386.23 424.20,386.28 424.00,386.32 423.80,386.34 423.60,386.35 423.40,386.34 423.20,386.32 423.00,386.28 422.80,386.23 422.60,386.16 422.40,386.06 422.20,385.93 422.00,385.75 421.80,385.47 421.60,385.05ZM426.80,385.05 427.00,384.56 427.20,384.37 427.40,384.25 427.60,384.15 427.80,384.08 428.00,384.03 428.20,383.99 428.40,383.96 428.60,383.95 428.80,383.95 429.00,383.96 429.20,383.99 429.40,384.03 429.60,384.08 429.80,384.15 430.00,384.25 430.20,384.37 430.40,384.56 430.60,385.05 430.60,385.05 430.40,385.54 430.20,385.73 430.00,385.85 429.80,385.95 429.60,386.02 429.40,386.07 429.20,386.11 429.00,386.14 428.80,386.15 428.60,386.15 428.40,386.14 428.20,386.11 428.00,386.07 427.80,386.02 427.60,385.95 427.40,385.85 427.20,385.73 427.00,385.54 426.80,385.05ZM435.60,385.05 435.80,384.47 436.00,384.25 436.20,384.10 436.40,383.99 436.60,383.91 436.80,383.84 437.00,383.80 437.20,383.77 437.40,383.75 437.60,383.75 437.80,383.77 438.00,383.80 438.20,383.84 438.40,383.91 438.60,383.99 438.80,384.10 439.00,384.25 439.20,384.47 439.40,385.05 439.40,385.05 439.20,385.63 439.00,385.85 438.80,386.00 438.60,386.11 438.40,386.19 438.20,386.26 438.00,386.30 437.80,386.33 437.60,386.35 437.40,386.35 437.20,386.33 437.00,386.30 436.80,386.26 436.60,386.19 436.40,386.11 436.20,386.00 436.00,385.85 435.80,385.63 435.60,385.05ZM441.00,385.05 441.20,384.51 441.40,384.13 441.60,383.90 441.80,383.73 442.00,383.60 442.20,383.51 442.40,383.44 442.60,383.39 442.80,383.36 443.00,383.35 443.20,383.36 443.40,383.39 443.60,383.44 443.80,383.51 444.00,383.60 444.20,383.73 444.40,383.90 444.60,384.13 444.80,384.51 445.00,385.05 445.00,385.05 444.80,385.59 444.60,385.97 444.40,386.20 444.20,386.37 444.00,386.50 443.80,386.59 443.60,386.66 443.40,386.71 443.20,386.74 443.00,386.75 442.80,386.74 442.60,386.71 442.40,386.66 442.20,386.59 442.00,386.50 441.80,386.37 441.60,386.20 441.40,385.97 441.20,385.59 441.00,385.05ZM446.40,385.05 446.60,384.41 446.80,383.97 447.00,383.70 447.20,383.50 447.40,383.35 447.60,383.24 447.80,383.15 448.00,383.09 448.20,383.06 448.40,383.05 448.60,383.06 448.80,383.09 449.00,383.15 449.20,383.24 449.40,383.35 449.60,383.50 449.80,383.70 450.00,383.97 450.20,384.41 450.40,385.05 450.40,385.05 450.20,385.69 450.00,386.13 449.80,386.40 449.60,386.60 449.40,386.75 449.20,386.86 449.00,386.95 448.80,387.01 448.60,387.04 448.40,387.05 448.20,387.04 448.00,387.01 447.80,386.95 447.60,386.86 447.40,386.75 447.20,386.60 447.00,386.40 446.80,386.13 446.60,385.69 446.40,385.05ZM451.80,385.05 452.00,384.41 452.20,383.97 452.40,383.70 452.60,383.50 452.80,383.35 453.00,383.24 453.20,383.15 453.40,383.09 453.60,383.06 453.80,383.05 454.00,383.06 454.20,383.09 454.40,383.15 454.60,383.24 454.80,383.35 455.00,383.50 455.20,383.70 455.40,383.97 455.60,384.41 455.80,385.05 455.80,385.05 455.60,385.69 455.40,386.13 455.20,386.40 455.00,386.60 454.80,386.75 454.60,386.86 454.40,386.95 454.20,387.01 454.00,387.04 453.80,387.05 453.60,387.04 453.40,387.01 453.20,386.95 453.00,386.86 452.80,386.75 452.60,386.60 452.40,386.40 452.20,386.13 452.00,385.69 451.80,385.05ZM457.40,385.05 457.60,384.34 457.80,384.07 458.00,383.88 458.20,383.75 458.40,383.64 458.60,383.56 458.80,383.51 459.00,383.47 459.20,383.45 459.40,383.45 459.60,383.47 459.80,383.51 460.00,383.56 460.20,383.64 460.40,383.75 460.60,383.88 460.80,384.07 461.00,384.34 461.20,385.05 461.20,385.05 461.00,385.76 460.80,386.03 460.60,386.22 460.40,386.35 460.20,386.46 460.00,386.54 459.80,386.59 459.60,386.63 459.40,386.65 459.20,386.65 459.00,386.63 458.80,386.59 458.60,386.54 458.40,386.46 458.20,386.35 458.00,386.22 457.80,386.03 457.60,385.76 457.40,385.05ZM463.80,385.05 464.00,384.83 464.20,384.67 464.40,384.58 464.60,384.51 464.80,384.45 465.00,384.42 465.20,384.39 465.40,384.37 465.60,384.35 465.80,384.35 466.00,384.35 466.20,384.37 466.40,384.39 466.60,384.42 466.80,384.45 467.00,384.51 467.20,384.58 467.40,384.67 467.60,384.83 467.80,385.05 467.80,385.05 467.60,385.27 467.40,385.43 467.20,385.52 467.00,385.59 466.80,385.65 466.60,385.68 466.40,385.71 466.20,385.73 466.00,385.75 465.80,385.75 465.60,385.75 465.40,385.73 465.20,385.71 465.00,385.68 464.80,385.65 464.60,385.59 464.40,385.52 464.20,385.43 464.00,385.27 463.80,385.05ZM471.60,385.05 471.80,384.78 472.00,384.68 472.20,384.61 472.40,384.56 472.60,384.52 472.80,384.49 473.00,384.47 473.20,384.46 473.40,384.45 473.60,384.45 473.80,384.46 474.00,384.47 474.20,384.49 474.40,384.52 474.60,384.56 474.80,384.61 475.00,384.68 475.20,384.78 475.40,385.05 475.40,385.05 475.20,385.32 475.00,385.42 474.80,385.49 474.60,385.54 474.40,385.58 474.20,385.61 474.00,385.63 473.80,385.64 473.60,385.65 473.40,385.65 473.20,385.64 473.00,385.63 472.80,385.61 472.60,385.58 472.40,385.54 472.20,385.49 472.00,385.42 471.80,385.32 471.60,385.05ZM480.20,385.05 480.40,384.83 480.60,384.67 480.80,384.58 481.00,384.51 481.20,384.45 481.40,384.42 481.60,384.39 481.80,384.37 482.00,384.35 482.20,384.35 482.40,384.35 482.60,384.37 482.80,384.39 483.00,384.42 483.20,384.45 483.40,384.51 483.60,384.58 483.80,384.67 484.00,384.83 484.20,385.05 484.20,385.05 484.00,385.27 483.80,385.43 483.60,385.52 483.40,385.59 483.20,385.65 483.00,385.68 482.80,385.71 482.60,385.73 482.40,385.75 482.20,385.75 482.00,385.75 481.80,385.73 481.60,385.71 481.40,385.68 481.20,385.65 481.00,385.59 480.80,385.52 480.60,385.43 480.40,385.27 480.20,385.05ZM485.60,385.05 485.80,384.76 486.00,384.56 486.20,384.44 486.40,384.35 486.60,384.28 486.80,384.23 487.00,384.20 487.20,384.17 487.40,384.16 487.60,384.15 487.80,384.16 488.00,384.17 488.20,384.20 488.40,384.23 488.60,384.28 488.80,384.35 489.00,384.44 489.20,384.56 489.40,384.76 489.60,385.05 489.60,385.05 489.40,385.34 489.20,385.54 489.00,385.66 488.80,385.75 488.60,385.82 488.40,385.87 488.20,385.90 488.00,385.93 487.80,385.94 487.60,385.95 487.40,385.94 487.20,385.93 487.00,385.90 486.80,385.87 486.60,385.82 486.40,385.75 486.20,385.66 486.00,385.54 485.80,385.34 485.60,385.05ZM491.00,385.05 491.20,384.63 491.40,384.35 491.60,384.17 491.80,384.04 492.00,383.94 492.20,383.87 492.40,383.82 492.60,383.78 492.80,383.76 493.00,383.75 493.20,383.76 493.40,383.78 493.60,383.82 493.80,383.87 494.00,383.94 494.20,384.04 494.40,384.17 494.60,384.35 494.80,384.63 495.00,385.05 495.00,385.05 494.80,385.47 494.60,385.75 494.40,385.93 494.20,386.06 494.00,386.16 493.80,386.23 493.60,386.28 493.40,386.32 493.20,386.34 493.00,386.35 492.80,386.34 492.60,386.32 492.40,386.28 492.20,386.23 492.00,386.16 491.80,386.06 491.60,385.93 491.40,385.75 491.20,385.47 491.00,385.05ZM496.60,385.05 496.80,384.47 497.00,384.25 497.20,384.10 497.40,383.99 497.60,383.91 497.80,383.84 498.00,383.80 498.20,383.77 498.40,383.75 498.60,383.75 498.80,383.77 499.00,383.80 499.20,383.84 499.40,383.91 499.60,383.99 499.80,384.10 500.00,384.25 500.20,384.47 500.40,385.05 500.40,385.05 500.20,385.63 500.00,385.85 499.80,386.00 499.60,386.11 499.40,386.19 499.20,386.26 499.00,386.30 498.80,386.33 498.60,386.35 498.40,386.35 498.20,386.33 498.00,386.30 497.80,386.26 497.60,386.19 497.40,386.11 497.20,386.00 497.00,385.85 496.80,385.63 496.60,385.05ZM502.00,385.05 502.20,384.70 502.40,384.46 502.60,384.31 502.80,384.20 503.00,384.11 503.20,384.05 503.40,384.01 503.60,383.97 503.80,383.96 504.00,383.95 504.20,383.96 504.40,383.97 504.60,384.01 504.80,384.05 505.00,384.11 505.20,384.20 505.40,384.31 505.60,384.46 505.80,384.70 506.00,385.05 506.00,385.05 505.80,385.40 505.60,385.64 505.40,385.79 505.20,385.90 505.00,385.99 504.80,386.05 504.60,386.09 504.40,386.13 504.20,386.14 504.00,386.15 503.80,386.14 503.60,386.13 503.40,386.09 503.20,386.05 503.00,385.99 502.80,385.90 502.60,385.79 502.40,385.64 502.20,385.40 502.00,385.05ZM507.60,385.05 507.80,384.74 508.00,384.62 508.20,384.54 508.40,384.48 508.60,384.43 508.80,384.40 509.00,384.37 509.20,384.36 509.40,384.35 509.60,384.35 509.80,384.36 510.00,384.37 510.20,384.40 510.40,384.43 510.60,384.48 510.80,384.54 511.00,384.62 511.20,384.74 511.40,385.05 511.40,385.05 511.20,385.36 511.00,385.48 510.80,385.56 510.60,385.62 510.40,385.67 510.20,385.70 510.00,385.73 509.80,385.74 509.60,385.75 509.40,385.75 509.20,385.74 509.00,385.73 508.80,385.70 508.60,385.67 508.40,385.62 508.20,385.56 508.00,385.48 507.80,385.36 507.60,385.05Z" fill="#0880D2"/>
<path d="M247.00,385.05 247.25,385.05 247.50,385.05 247.75,384.63 248.00,384.22 248.25,383.80 248.50,383.38 248.75,382.97 249.00,382.55 249.25,382.55 249.50,382.55 249.75,382.56 250.00,382.56 250.25,382.56 250.50,382.56 250.75,382.56 251.00,382.56 251.25,382.57 251.50,382.57 251.75,382.57 252.00,382.57 252.25,382.57 252.50,382.58 252.75,382.58 253.00,382.58 253.25,382.58 253.50,382.58 253.75,382.58 254.00,382.59 254.25,382.59 254.50,382.59 254.75,382.59 255.00,382.59 255.25,382.60 255.50,382.60 255.75,382.60 256.00,382.60 256.25,382.60 256.50,382.60 256.75,382.61 257.00,382.61 257.25,382.61 257.50,382.61 257.75,382.61 258.00,382.62 258.25,382.62 258.50,382.62 258.75,382.62 259.00,382.62 259.25,382.62 259.50,382.63 259.75,382.63 260.00,382.63 260.25,382.63 260.50,382.63 260.75,382.64 261.00,382.64 261.25,382.64 261.50,382.64 261.75,382.64 262.00,382.65 262.25,382.65 262.50,382.65 262.75,382.65 263.00,382.65 263.25,382.65 263.50,382.66 263.75,382.66 264.00,382.66 264.25,382.66 264.50,382.66 264.75,382.67 265.00,382.67 265.25,382.67 265.50,382.67 265.75,382.67 266.00,382.67 266.25,382.68 266.50,382.68 266.75,382.68 267.00,382.68 267.25,382.68 267.50,382.69 267.75,382.69 268.00,382.69 268.25,382.69 268.50,382.69 268.75,382.69 269.00,382.70 269.25,382.70 269.50,382.70 269.75,382.70 270.00,382.70 270.25,382.71 270.50,382.71 270.75,382.71 271.00,382.71 271.25,382.71 271.50,382.71 271.75,382.72 272.00,382.72 272.25,382.72 272.50,382.72 272.75,382.72 273.00,382.73 273.25,382.73 273.50,382.73 273.75,382.73 274.00,382.73 274.25,382.73 274.50,382.74 274.75,382.74 275.00,382.74 275.25,382.74 275.50,382.74 275.75,382.75 276.00,382.75 276.25,382.75 276.50,382.75 276.75,382.75 277.00,382.75 277.25,382.76 277.50,382.76 277.75,382.76 278.00,382.76 278.25,382.76 278.50,382.77 278.75,382.77 279.00,382.77 279.25,382.77 279.50,382.77 279.75,382.78 280.00,382.78 280.25,382.78 280.50,382.78 280.75,382.78 281.00,382.78 281.25,382.79 281.50,382.79 281.75,382.79 282.00,382.79 282.25,382.79 282.50,382.80 282.75,382.80 283.00,382.80 283.25,382.80 283.50,382.80 283.75,382.80 284.00,382.81 284.25,382.81 284.50,382.81 284.75,382.81 285.00,382.81 285.25,382.82 285.50,382.82 285.75,382.82 286.00,382.82 286.25,382.82 286.50,382.82 286.75,382.83 287.00,382.83 287.25,382.83 287.50,382.83 287.75,382.83 288.00,382.84 288.25,382.84 288.50,382.84 288.75,382.84 289.00,382.84 289.25,382.84 289.50,382.85 289.75,382.85 290.00,382.85 290.25,382.93 290.50,383.02 290.75,383.10 291.00,383.18 291.25,383.27 291.50,383.35 291.75,383.43 292.00,383.52 292.25,383.60 292.50,383.68 292.75,383.77 293.00,383.85 293.25,383.84 293.50,383.82 293.75,383.81 294.00,383.80 294.25,383.79 294.50,383.78 294.75,383.76 295.00,383.75 295.25,383.74 295.50,383.73 295.75,383.71 296.00,383.70 296.25,383.69 296.50,383.68 296.75,383.66 297.00,383.65 297.25,383.64 297.50,383.62 297.75,383.61 298.00,383.60 298.25,383.59 298.50,383.57 298.75,383.56 299.00,383.55 299.25,383.56 299.50,383.57 299.75,383.59 300.00,383.60 300.25,383.61 300.50,383.62 300.75,383.64 301.00,383.65 301.25,383.66 301.50,383.68 301.75,383.69 302.00,383.70 302.25,383.71 302.50,383.73 302.75,383.74 303.00,383.75 303.25,383.76 303.50,383.78 303.75,383.79 304.00,383.80 304.25,383.81 304.50,383.82 304.75,383.84 305.00,383.85 305.25,383.81 305.50,383.77 305.75,383.73 306.00,383.69 306.25,383.65 306.50,383.61 306.75,383.57 307.00,383.53 307.25,383.49 307.50,383.45 307.75,383.41 308.00,383.37 308.25,383.33 308.50,383.29 308.75,383.25 309.00,383.21 309.25,383.17 309.50,383.13 309.75,383.09 310.00,383.05 310.25,383.05 310.50,383.06 310.75,383.06 311.00,383.06 311.25,383.06 311.50,383.06 311.75,383.07 312.00,383.07 312.25,383.07 312.50,383.07 312.75,383.08 313.00,383.08 313.25,383.08 313.50,383.09 313.75,383.09 314.00,383.09 314.25,383.09 314.50,383.10 314.75,383.10 315.00,383.10 315.25,383.10 315.50,383.11 315.75,383.11 316.00,383.11 316.25,383.11 316.50,383.12 316.75,383.12 317.00,383.12 317.25,383.12 317.50,383.12 317.75,383.13 318.00,383.13 318.25,383.13 318.50,383.13 318.75,383.14 319.00,383.14 319.25,383.14 319.50,383.15 319.75,383.15 320.00,383.15 320.25,383.15 320.50,383.16 320.75,383.16 321.00,383.16 321.25,383.16 321.50,383.17 321.75,383.17 322.00,383.17 322.25,383.17 322.50,383.18 322.75,383.18 323.00,383.18 323.25,383.18 323.50,383.19 323.75,383.19 324.00,383.19 324.25,383.19 324.50,383.19 324.75,383.20 325.00,383.20 325.25,383.20 325.50,383.20 325.75,383.21 326.00,383.21 326.25,383.21 326.50,383.22 326.75,383.22 327.00,383.22 327.25,383.22 327.50,383.23 327.75,383.23 328.00,383.23 328.25,383.23 328.50,383.24 328.75,383.24 329.00,383.24 329.25,383.24 329.50,383.25 329.75,383.25 330.00,383.25 330.25,383.26 330.50,383.28 330.75,383.29 331.00,383.30 331.25,383.32 331.50,383.33 331.75,383.34 332.00,383.36 332.25,383.37 332.50,383.38 332.75,383.40 333.00,383.41 333.25,383.42 333.50,383.44 333.75,383.45 334.00,383.46 334.25,383.48 334.50,383.49 334.75,383.50 335.00,383.52 335.25,383.53 335.50,383.54 335.75,383.56 336.00,383.57 336.25,383.58 336.50,383.60 336.75,383.61 337.00,383.62 337.25,383.64 337.50,383.65 337.75,383.66 338.00,383.68 338.25,383.69 338.50,383.70 338.75,383.72 339.00,383.73 339.25,383.74 339.50,383.76 339.75,383.77 340.00,383.78 340.25,383.80 340.50,383.81 340.75,383.82 341.00,383.84 341.25,383.85 341.50,383.86 341.75,383.88 342.00,383.89 342.25,383.90 342.50,383.92 342.75,383.93 343.00,383.94 343.25,383.96 343.50,383.97 343.75,383.98 344.00,384.00 344.25,384.01 344.50,384.02 344.75,384.04 345.00,384.05 345.25,384.05 345.50,384.05 345.75,384.05 346.00,384.05 346.25,384.05 346.50,384.05 346.75,384.05 347.00,384.05 347.25,384.05 347.50,384.05 347.75,384.05 348.00,384.05 348.25,384.05 348.50,384.05 348.75,384.05 349.00,384.05 349.25,384.05 349.50,384.05 349.75,384.05 350.00,384.05 350.25,384.04 350.50,384.03 350.75,384.03 351.00,384.02 351.25,384.01 351.50,384.00 351.75,383.99 352.00,383.98 352.25,383.98 352.50,383.97 352.75,383.96 353.00,383.95 353.25,383.94 353.50,383.93 353.75,383.93 354.00,383.92 354.25,383.91 354.50,383.90 354.75,383.89 355.00,383.88 355.25,383.88 355.50,383.87 355.75,383.86 356.00,383.85 356.25,383.84 356.50,383.83 356.75,383.82 357.00,383.82 357.25,383.81 357.50,383.80 357.75,383.79 358.00,383.78 358.25,383.78 358.50,383.77 358.75,383.76 359.00,383.75 359.25,383.74 359.50,383.73 359.75,383.73 360.00,383.72 360.25,383.71 360.50,383.70 360.75,383.69 361.00,383.68 361.25,383.68 361.50,383.67 361.75,383.66 362.00,383.65 362.25,383.64 362.50,383.63 362.75,383.62 363.00,383.62 363.25,383.61 363.50,383.60 363.75,383.59 364.00,383.58 364.25,383.57 364.50,383.57 364.75,383.56 365.00,383.55 365.25,383.59 365.50,383.62 365.75,383.66 366.00,383.69 366.25,383.73 366.50,383.76 366.75,383.80 367.00,383.83 367.25,383.87 367.50,383.90 367.75,383.94 368.00,383.97 368.25,384.00 368.50,384.04 368.75,384.07 369.00,384.11 369.25,384.15 369.50,384.18 369.75,384.22 370.00,384.25 370.25,384.25 370.50,384.25 370.75,384.24 371.00,384.24 371.25,384.24 371.50,384.24 371.75,384.24 372.00,384.23 372.25,384.23 372.50,384.23 372.75,384.23 373.00,384.23 373.25,384.22 373.50,384.22 373.75,384.22 374.00,384.22 374.25,384.22 374.50,384.21 374.75,384.21 375.00,384.21 375.25,384.21 375.50,384.21 375.75,384.20 376.00,384.20 376.25,384.20 376.50,384.20 376.75,384.20 377.00,384.19 377.25,384.19 377.50,384.19 377.75,384.19 378.00,384.19 378.25,384.18 378.50,384.18 378.75,384.18 379.00,384.18 379.25,384.18 379.50,384.17 379.75,384.17 380.00,384.17 380.25,384.17 380.50,384.17 380.75,384.16 381.00,384.16 381.25,384.16 381.50,384.16 381.75,384.16 382.00,384.15 382.25,384.15 382.50,384.15 382.75,384.15 383.00,384.15 383.25,384.14 383.50,384.14 383.75,384.14 384.00,384.14 384.25,384.14 384.50,384.13 384.75,384.13 385.00,384.13 385.25,384.13 385.50,384.13 385.75,384.12 386.00,384.12 386.25,384.12 386.50,384.12 386.75,384.12 387.00,384.11 387.25,384.11 387.50,384.11 387.75,384.11 388.00,384.11 388.25,384.10 388.50,384.10 388.75,384.10 389.00,384.10 389.25,384.10 389.50,384.09 389.75,384.09 390.00,384.09 390.25,384.09 390.50,384.09 390.75,384.08 391.00,384.08 391.25,384.08 391.50,384.08 391.75,384.08 392.00,384.07 392.25,384.07 392.50,384.07 392.75,384.07 393.00,384.07 393.25,384.06 393.50,384.06 393.75,384.06 394.00,384.06 394.25,384.06 394.50,384.05 394.75,384.05 395.00,384.05 395.25,384.05 395.50,384.05 395.75,384.05 396.00,384.06 396.25,384.06 396.50,384.06 396.75,384.06 397.00,384.06 397.25,384.06 397.50,384.06 397.75,384.07 398.00,384.07 398.25,384.07 398.50,384.07 398.75,384.07 399.00,384.07 399.25,384.07 399.50,384.08 399.75,384.08 400.00,384.08 400.25,384.08 400.50,384.08 400.75,384.08 401.00,384.08 401.25,384.09 401.50,384.09 401.75,384.09 402.00,384.09 402.25,384.09 402.50,384.09 402.75,384.09 403.00,384.10 403.25,384.10 403.50,384.10 403.75,384.10 404.00,384.10 404.25,384.10 404.50,384.10 404.75,384.11 405.00,384.11 405.25,384.11 405.50,384.11 405.75,384.11 406.00,384.11 406.25,384.11 406.50,384.12 406.75,384.12 407.00,384.12 407.25,384.12 407.50,384.12 407.75,384.12 408.00,384.12 408.25,384.13 408.50,384.13 408.75,384.13 409.00,384.13 409.25,384.13 409.50,384.13 409.75,384.13 410.00,384.14 410.25,384.14 410.50,384.14 410.75,384.14 411.00,384.14 411.25,384.14 411.50,384.14 411.75,384.15 412.00,384.15 412.25,384.15 412.50,384.15 412.75,384.15 413.00,384.15 413.25,384.15 413.50,384.16 413.75,384.16 414.00,384.16 414.25,384.16 414.50,384.16 414.75,384.16 415.00,384.16 415.25,384.17 415.50,384.17 415.75,384.17 416.00,384.17 416.25,384.17 416.50,384.17 416.75,384.17 417.00,384.18 417.25,384.18 417.50,384.18 417.75,384.18 418.00,384.18 418.25,384.18 418.50,384.18 418.75,384.19 419.00,384.19 419.25,384.19 419.50,384.19 419.75,384.19 420.00,384.19 420.25,384.19 420.50,384.20 420.75,384.20 421.00,384.20 421.25,384.20 421.50,384.20 421.75,384.20 422.00,384.20 422.25,384.21 422.50,384.21 422.75,384.21 423.00,384.21 423.25,384.21 423.50,384.21 423.75,384.21 424.00,384.22 424.25,384.22 424.50,384.22 424.75,384.22 425.00,384.22 425.25,384.22 425.50,384.22 425.75,384.23 426.00,384.23 426.25,384.23 426.50,384.23 426.75,384.23 427.00,384.23 427.25,384.23 427.50,384.24 427.75,384.24 428.00,384.24 428.25,384.24 428.50,384.24 428.75,384.24 429.00,384.24 429.25,384.25 429.50,384.25 429.75,384.25 430.00,384.25 430.25,384.25 430.50,384.24 430.75,384.24 431.00,384.23 431.25,384.23 431.50,384.22 431.75,384.22 432.00,384.21 432.25,384.20 432.50,384.20 432.75,384.19 433.00,384.19 433.25,384.19 433.50,384.18 433.75,384.18 434.00,384.17 434.25,384.17 434.50,384.16 434.75,384.16 435.00,384.15 435.25,384.15 435.50,384.14 435.75,384.13 436.00,384.13 436.25,384.12 436.50,384.12 436.75,384.12 437.00,384.11 437.25,384.11 437.50,384.10 437.75,384.10 438.00,384.09 438.25,384.09 438.50,384.08 438.75,384.07 439.00,384.07 439.25,384.06 439.50,384.06 439.75,384.06 440.00,384.05 440.25,384.05 440.50,384.05 440.75,384.05 441.00,384.05 441.25,384.05 441.50,384.05 441.75,384.05 442.00,384.05 442.25,384.05 442.50,384.05 442.75,384.05 443.00,384.05 443.25,384.05 443.50,384.05 443.75,384.05 444.00,384.05 444.25,384.05 444.50,384.05 444.75,384.05 445.00,384.05 445.25,384.05 445.50,384.05 445.75,384.05 446.00,384.05 446.25,384.05 446.50,384.05 446.75,384.05 447.00,384.05 447.25,384.05 447.50,384.05 447.75,384.05 448.00,384.05 448.25,384.05 448.50,384.05 448.75,384.05 449.00,384.05 449.25,384.05 449.50,384.05 449.75,384.05 450.00,384.05 450.25,384.05 450.50,384.05 450.75,384.05 451.00,384.05 451.25,384.05 451.50,384.05 451.75,384.05 452.00,384.05 452.25,384.05 452.50,384.05 452.75,384.05 453.00,384.05 453.25,384.05 453.50,384.05 453.75,384.05 454.00,384.05 454.25,384.05 454.50,384.05 454.75,384.05 455.00,384.05 455.25,384.05 455.50,384.05 455.75,384.05 456.00,384.05 456.25,384.05 456.50,384.05 456.75,384.05 457.00,384.05 457.25,384.05 457.50,384.05 457.75,384.05 458.00,384.05 458.25,384.05 458.50,384.05 458.75,384.05 459.00,384.05 459.25,384.05 459.50,384.05 459.75,384.05 460.00,384.05 460.25,384.07 460.50,384.10 460.75,384.12 461.00,384.15 461.25,384.18 461.50,384.20 461.75,384.23 462.00,384.25 462.25,384.28 462.50,384.30 462.75,384.32 463.00,384.35 463.25,384.38 463.50,384.40 463.75,384.43 464.00,384.45 464.25,384.48 464.50,384.50 464.75,384.53 465.00,384.55 465.25,384.55 465.50,384.55 465.75,384.55 466.00,384.55 466.25,384.55 466.50,384.55 466.75,384.55 467.00,384.55 467.25,384.55 467.50,384.56 467.75,384.56 468.00,384.56 468.25,384.56 468.50,384.56 468.75,384.56 469.00,384.56 469.25,384.56 469.50,384.56 469.75,384.56 470.00,384.56 470.25,384.56 470.50,384.56 470.75,384.56 471.00,384.56 471.25,384.56 471.50,384.56 471.75,384.56 472.00,384.56 472.25,384.57 472.50,384.57 472.75,384.57 473.00,384.57 473.25,384.57 473.50,384.57 473.75,384.57 474.00,384.57 474.25,384.57 474.50,384.57 474.75,384.57 475.00,384.57 475.25,384.57 475.50,384.57 475.75,384.57 476.00,384.57 476.25,384.57 476.50,384.57 476.75,384.57 477.00,384.58 477.25,384.58 477.50,384.58 477.75,384.58 478.00,384.58 478.25,384.58 478.50,384.58 478.75,384.58 479.00,384.58 479.25,384.58 479.50,384.58 479.75,384.58 480.00,384.58 480.25,384.58 480.50,384.58 480.75,384.58 481.00,384.58 481.25,384.58 481.50,384.59 481.75,384.59 482.00,384.59 482.25,384.59 482.50,384.59 482.75,384.59 483.00,384.59 483.25,384.59 483.50,384.59 483.75,384.59 484.00,384.59 484.25,384.59 484.50,384.59 484.75,384.59 485.00,384.59 485.25,384.59 485.50,384.59 485.75,384.59 486.00,384.59 486.25,384.60 486.50,384.60 486.75,384.60 487.00,384.60 487.25,384.60 487.50,384.60 487.75,384.60 488.00,384.60 488.25,384.60 488.50,384.60 488.75,384.60 489.00,384.60 489.25,384.60 489.50,384.60 489.75,384.60 490.00,384.60 490.25,384.60 490.50,384.60 490.75,384.60 491.00,384.61 491.25,384.61 491.50,384.61 491.75,384.61 492.00,384.61 492.25,384.61 492.50,384.61 492.75,384.61 493.00,384.61 493.25,384.61 493.50,384.61 493.75,384.61 494.00,384.61 494.25,384.61 494.50,384.61 494.75,384.61 495.00,384.61 495.25,384.61 495.50,384.61 495.75,384.62 496.00,384.62 496.25,384.62 496.50,384.62 496.75,384.62 497.00,384.62 497.25,384.62 497.50,384.62 497.75,384.62 498.00,384.62 498.25,384.62 498.50,384.62 498.75,384.62 499.00,384.62 499.25,384.62 499.50,384.62 499.75,384.62 500.00,384.62 500.25,384.62 500.50,384.63 500.75,384.63 501.00,384.63 501.25,384.63 501.50,384.63 501.75,384.63 502.00,384.63 502.25,384.63 502.50,384.63 502.75,384.63 503.00,384.63 503.25,384.63 503.50,384.63 503.75,384.63 504.00,384.63 504.25,384.63 504.50,384.63 504.75,384.63 505.00,384.64 505.25,384.64 505.50,384.64 505.75,384.64 506.00,384.64 506.25,384.64 506.50,384.64 506.75,384.64 507.00,384.64 507.25,384.64 507.50,384.64 507.75,384.64 508.00,384.64 508.25,384.64 508.50,384.64 508.75,384.64 509.00,384.64 509.25,384.64 509.50,384.64 509.75,384.65 510.00,384.65 510.25,384.65 510.50,384.65 510.75,384.65 511.00,384.65 511.25,384.65 511.50,384.65 511.75,384.65 512.00,384.65 512.25,384.75 512.50,384.85 512.75,384.95 513.00,385.05 513.25,385.05 513.50,385.05 513.75,385.05 514.00,385.05 514.00,385.05 513.75,385.05 513.50,385.05 513.25,385.05 513.00,385.05 512.75,385.15 512.50,385.25 512.25,385.35 512.00,385.45 511.75,385.45 511.50,385.45 511.25,385.45 511.00,385.45 510.75,385.45 510.50,385.45 510.25,385.45 510.00,385.45 509.75,385.45 509.50,385.46 509.25,385.46 509.00,385.46 508.75,385.46 508.50,385.46 508.25,385.46 508.00,385.46 507.75,385.46 507.50,385.46 507.25,385.46 507.00,385.46 506.75,385.46 506.50,385.46 506.25,385.46 506.00,385.46 505.75,385.46 505.50,385.46 505.25,385.46 505.00,385.46 504.75,385.47 504.50,385.47 504.25,385.47 504.00,385.47 503.75,385.47 503.50,385.47 503.25,385.47 503.00,385.47 502.75,385.47 502.50,385.47 502.25,385.47 502.00,385.47 501.75,385.47 501.50,385.47 501.25,385.47 501.00,385.47 500.75,385.47 500.50,385.47 500.25,385.48 500.00,385.48 499.75,385.48 499.50,385.48 499.25,385.48 499.00,385.48 498.75,385.48 498.50,385.48 498.25,385.48 498.00,385.48 497.75,385.48 497.50,385.48 497.25,385.48 497.00,385.48 496.75,385.48 496.50,385.48 496.25,385.48 496.00,385.48 495.75,385.48 495.50,385.49 495.25,385.49 495.00,385.49 494.75,385.49 494.50,385.49 494.25,385.49 494.00,385.49 493.75,385.49 493.50,385.49 493.25,385.49 493.00,385.49 492.75,385.49 492.50,385.49 492.25,385.49 492.00,385.49 491.75,385.49 491.50,385.49 491.25,385.49 491.00,385.49 490.75,385.50 490.50,385.50 490.25,385.50 490.00,385.50 489.75,385.50 489.50,385.50 489.25,385.50 489.00,385.50 488.75,385.50 488.50,385.50 488.25,385.50 488.00,385.50 487.75,385.50 487.50,385.50 487.25,385.50 487.00,385.50 486.75,385.50 486.50,385.50 486.25,385.50 486.00,385.51 485.75,385.51 485.50,385.51 485.25,385.51 485.00,385.51 484.75,385.51 484.50,385.51 484.25,385.51 484.00,385.51 483.75,385.51 483.50,385.51 483.25,385.51 483.00,385.51 482.75,385.51 482.50,385.51 482.25,385.51 482.00,385.51 481.75,385.51 481.50,385.51 481.25,385.52 481.00,385.52 480.75,385.52 480.50,385.52 480.25,385.52 480.00,385.52 479.75,385.52 479.50,385.52 479.25,385.52 479.00,385.52 478.75,385.52 478.50,385.52 478.25,385.52 478.00,385.52 477.75,385.52 477.50,385.52 477.25,385.52 477.00,385.52 476.75,385.53 476.50,385.53 476.25,385.53 476.00,385.53 475.75,385.53 475.50,385.53 475.25,385.53 475.00,385.53 474.75,385.53 474.50,385.53 474.25,385.53 474.00,385.53 473.75,385.53 473.50,385.53 473.25,385.53 473.00,385.53 472.75,385.53 472.50,385.53 472.25,385.53 472.00,385.54 471.75,385.54 471.50,385.54 471.25,385.54 471.00,385.54 470.75,385.54 470.50,385.54 470.25,385.54 470.00,385.54 469.75,385.54 469.50,385.54 469.25,385.54 469.00,385.54 468.75,385.54 468.50,385.54 468.25,385.54 468.00,385.54 467.75,385.54 467.50,385.54 467.25,385.55 467.00,385.55 466.75,385.55 466.50,385.55 466.25,385.55 466.00,385.55 465.75,385.55 465.50,385.55 465.25,385.55 465.00,385.55 464.75,385.57 464.50,385.60 464.25,385.62 464.00,385.65 463.75,385.68 463.50,385.70 463.25,385.73 463.00,385.75 462.75,385.78 462.50,385.80 462.25,385.82 462.00,385.85 461.75,385.88 461.50,385.90 461.25,385.93 461.00,385.95 460.75,385.98 460.50,386.00 460.25,386.03 460.00,386.05 459.75,386.05 459.50,386.05 459.25,386.05 459.00,386.05 458.75,386.05 458.50,386.05 458.25,386.05 458.00,386.05 457.75,386.05 457.50,386.05 457.25,386.05 457.00,386.05 456.75,386.05 456.50,386.05 456.25,386.05 456.00,386.05 455.75,386.05 455.50,386.05 455.25,386.05 455.00,386.05 454.75,386.05 454.50,386.05 454.25,386.05 454.00,386.05 453.75,386.05 453.50,386.05 453.25,386.05 453.00,386.05 452.75,386.05 452.50,386.05 452.25,386.05 452.00,386.05 451.75,386.05 451.50,386.05 451.25,386.05 451.00,386.05 450.75,386.05 450.50,386.05 450.25,386.05 450.00,386.05 449.75,386.05 449.50,386.05 449.25,386.05 449.00,386.05 448.75,386.05 448.50,386.05 448.25,386.05 448.00,386.05 447.75,386.05 447.50,386.05 447.25,386.05 447.00,386.05 446.75,386.05 446.50,386.05 446.25,386.05 446.00,386.05 445.75,386.05 445.50,386.05 445.25,386.05 445.00,386.05 444.75,386.05 444.50,386.05 444.25,386.05 444.00,386.05 443.75,386.05 443.50,386.05 443.25,386.05 443.00,386.05 442.75,386.05 442.50,386.05 442.25,386.05 442.00,386.05 441.75,386.05 441.50,386.05 441.25,386.05 441.00,386.05 440.75,386.05 440.50,386.05 440.25,386.05 440.00,386.05 439.75,386.05 439.50,386.04 439.25,386.04 439.00,386.03 438.75,386.03 438.50,386.02 438.25,386.01 438.00,386.01 437.75,386.00 437.50,386.00 437.25,386.00 437.00,385.99 436.75,385.99 436.50,385.98 436.25,385.98 436.00,385.97 435.75,385.97 435.50,385.96 435.25,385.95 435.00,385.95 434.75,385.94 434.50,385.94 434.25,385.94 434.00,385.93 433.75,385.93 433.50,385.92 433.25,385.92 433.00,385.91 432.75,385.91 432.50,385.90 432.25,385.90 432.00,385.89 431.75,385.88 431.50,385.88 431.25,385.88 431.00,385.87 430.75,385.87 430.50,385.86 430.25,385.86 430.00,385.85 429.75,385.85 429.50,385.85 429.25,385.85 429.00,385.86 428.75,385.86 428.50,385.86 428.25,385.86 428.00,385.86 427.75,385.86 427.50,385.86 427.25,385.87 427.00,385.87 426.75,385.87 426.50,385.87 426.25,385.87 426.00,385.87 425.75,385.87 425.50,385.88 425.25,385.88 425.00,385.88 424.75,385.88 424.50,385.88 424.25,385.88 424.00,385.88 423.75,385.89 423.50,385.89 423.25,385.89 423.00,385.89 422.75,385.89 422.50,385.89 422.25,385.89 422.00,385.90 421.75,385.90 421.50,385.90 421.25,385.90 421.00,385.90 420.75,385.90 420.50,385.90 420.25,385.91 420.00,385.91 419.75,385.91 419.50,385.91 419.25,385.91 419.00,385.91 418.75,385.91 418.50,385.92 418.25,385.92 418.00,385.92 417.75,385.92 417.50,385.92 417.25,385.92 417.00,385.92 416.75,385.93 416.50,385.93 416.25,385.93 416.00,385.93 415.75,385.93 415.50,385.93 415.25,385.93 415.00,385.94 414.75,385.94 414.50,385.94 414.25,385.94 414.00,385.94 413.75,385.94 413.50,385.94 413.25,385.95 413.00,385.95 412.75,385.95 412.50,385.95 412.25,385.95 412.00,385.95 411.75,385.95 411.50,385.96 411.25,385.96 411.00,385.96 410.75,385.96 410.50,385.96 410.25,385.96 410.00,385.96 409.75,385.97 409.50,385.97 409.25,385.97 409.00,385.97 408.75,385.97 408.50,385.97 408.25,385.97 408.00,385.98 407.75,385.98 407.50,385.98 407.25,385.98 407.00,385.98 406.75,385.98 406.50,385.98 406.25,385.99 406.00,385.99 405.75,385.99 405.50,385.99 405.25,385.99 405.00,385.99 404.75,385.99 404.50,386.00 404.25,386.00 404.00,386.00 403.75,386.00 403.50,386.00 403.25,386.00 403.00,386.00 402.75,386.01 402.50,386.01 402.25,386.01 402.00,386.01 401.75,386.01 401.50,386.01 401.25,386.01 401.00,386.02 400.75,386.02 400.50,386.02 400.25,386.02 400.00,386.02 399.75,386.02 399.50,386.02 399.25,386.03 399.00,386.03 398.75,386.03 398.50,386.03 398.25,386.03 398.00,386.03 397.75,386.03 397.50,386.04 397.25,386.04 397.00,386.04 396.75,386.04 396.50,386.04 396.25,386.04 396.00,386.04 395.75,386.05 395.50,386.05 395.25,386.05 395.00,386.05 394.75,386.05 394.50,386.05 394.25,386.04 394.00,386.04 393.75,386.04 393.50,386.04 393.25,386.04 393.00,386.03 392.75,386.03 392.50,386.03 392.25,386.03 392.00,386.03 391.75,386.02 391.50,386.02 391.25,386.02 391.00,386.02 390.75,386.02 390.50,386.01 390.25,386.01 390.00,386.01 389.75,386.01 389.50,386.01 389.25,386.00 389.00,386.00 388.75,386.00 388.50,386.00 388.25,386.00 388.00,385.99 387.75,385.99 387.50,385.99 387.25,385.99 387.00,385.99 386.75,385.98 386.50,385.98 386.25,385.98 386.00,385.98 385.75,385.98 385.50,385.97 385.25,385.97 385.00,385.97 384.75,385.97 384.50,385.97 384.25,385.96 384.00,385.96 383.75,385.96 383.50,385.96 383.25,385.96 383.00,385.95 382.75,385.95 382.50,385.95 382.25,385.95 382.00,385.95 381.75,385.94 381.50,385.94 381.25,385.94 381.00,385.94 380.75,385.94 380.50,385.93 380.25,385.93 380.00,385.93 379.75,385.93 379.50,385.93 379.25,385.92 379.00,385.92 378.75,385.92 378.50,385.92 378.25,385.92 378.00,385.91 377.75,385.91 377.50,385.91 377.25,385.91 377.00,385.91 376.75,385.90 376.50,385.90 376.25,385.90 376.00,385.90 375.75,385.90 375.50,385.89 375.25,385.89 375.00,385.89 374.75,385.89 374.50,385.89 374.25,385.88 374.00,385.88 373.75,385.88 373.50,385.88 373.25,385.88 373.00,385.87 372.75,385.87 372.50,385.87 372.25,385.87 372.00,385.87 371.75,385.86 371.50,385.86 371.25,385.86 371.00,385.86 370.75,385.86 370.50,385.85 370.25,385.85 370.00,385.85 369.75,385.88 369.50,385.92 369.25,385.95 369.00,385.99 368.75,386.03 368.50,386.06 368.25,386.10 368.00,386.13 367.75,386.17 367.50,386.20 367.25,386.24 367.00,386.27 366.75,386.31 366.50,386.34 366.25,386.38 366.00,386.41 365.75,386.44 365.50,386.48 365.25,386.51 365.00,386.55 364.75,386.54 364.50,386.53 364.25,386.53 364.00,386.52 363.75,386.51 363.50,386.50 363.25,386.49 363.00,386.48 362.75,386.48 362.50,386.47 362.25,386.46 362.00,386.45 361.75,386.44 361.50,386.43 361.25,386.43 361.00,386.42 360.75,386.41 360.50,386.40 360.25,386.39 360.00,386.38 359.75,386.38 359.50,386.37 359.25,386.36 359.00,386.35 358.75,386.34 358.50,386.33 358.25,386.32 358.00,386.32 357.75,386.31 357.50,386.30 357.25,386.29 357.00,386.28 356.75,386.28 356.50,386.27 356.25,386.26 356.00,386.25 355.75,386.24 355.50,386.23 355.25,386.23 355.00,386.22 354.75,386.21 354.50,386.20 354.25,386.19 354.00,386.18 353.75,386.18 353.50,386.17 353.25,386.16 353.00,386.15 352.75,386.14 352.50,386.13 352.25,386.12 352.00,386.12 351.75,386.11 351.50,386.10 351.25,386.09 351.00,386.08 350.75,386.07 350.50,386.07 350.25,386.06 350.00,386.05 349.75,386.05 349.50,386.05 349.25,386.05 349.00,386.05 348.75,386.05 348.50,386.05 348.25,386.05 348.00,386.05 347.75,386.05 347.50,386.05 347.25,386.05 347.00,386.05 346.75,386.05 346.50,386.05 346.25,386.05 346.00,386.05 345.75,386.05 345.50,386.05 345.25,386.05 345.00,386.05 344.75,386.06 344.50,386.08 344.25,386.09 344.00,386.10 343.75,386.12 343.50,386.13 343.25,386.14 343.00,386.16 342.75,386.17 342.50,386.18 342.25,386.20 342.00,386.21 341.75,386.22 341.50,386.24 341.25,386.25 341.00,386.26 340.75,386.28 340.50,386.29 340.25,386.30 340.00,386.32 339.75,386.33 339.50,386.34 339.25,386.36 339.00,386.37 338.75,386.38 338.50,386.40 338.25,386.41 338.00,386.42 337.75,386.44 337.50,386.45 337.25,386.46 337.00,386.48 336.75,386.49 336.50,386.50 336.25,386.52 336.00,386.53 335.75,386.54 335.50,386.56 335.25,386.57 335.00,386.58 334.75,386.60 334.50,386.61 334.25,386.62 334.00,386.64 333.75,386.65 333.50,386.66 333.25,386.68 333.00,386.69 332.75,386.70 332.50,386.72 332.25,386.73 332.00,386.74 331.75,386.76 331.50,386.77 331.25,386.78 331.00,386.80 330.75,386.81 330.50,386.82 330.25,386.84 330.00,386.85 329.75,386.85 329.50,386.86 329.25,386.86 329.00,386.86 328.75,386.86 328.50,386.87 328.25,386.87 328.00,386.87 327.75,386.87 327.50,386.88 327.25,386.88 327.00,386.88 326.75,386.88 326.50,386.88 326.25,386.89 326.00,386.89 325.75,386.89 325.50,386.90 325.25,386.90 325.00,386.90 324.75,386.90 324.50,386.91 324.25,386.91 324.00,386.91 323.75,386.91 323.50,386.92 323.25,386.92 323.00,386.92 322.75,386.92 322.50,386.93 322.25,386.93 322.00,386.93 321.75,386.93 321.50,386.94 321.25,386.94 321.00,386.94 320.75,386.94 320.50,386.94 320.25,386.95 320.00,386.95 319.75,386.95 319.50,386.95 319.25,386.96 319.00,386.96 318.75,386.96 318.50,386.97 318.25,386.97 318.00,386.97 317.75,386.97 317.50,386.98 317.25,386.98 317.00,386.98 316.75,386.98 316.50,386.99 316.25,386.99 316.00,386.99 315.75,386.99 315.50,387.00 315.25,387.00 315.00,387.00 314.75,387.00 314.50,387.00 314.25,387.01 314.00,387.01 313.75,387.01 313.50,387.01 313.25,387.02 313.00,387.02 312.75,387.02 312.50,387.03 312.25,387.03 312.00,387.03 311.75,387.03 311.50,387.04 311.25,387.04 311.00,387.04 310.75,387.04 310.50,387.05 310.25,387.05 310.00,387.05 309.75,387.01 309.50,386.97 309.25,386.93 309.00,386.89 308.75,386.85 308.50,386.81 308.25,386.77 308.00,386.73 307.75,386.69 307.50,386.65 307.25,386.61 307.00,386.57 306.75,386.53 306.50,386.49 306.25,386.45 306.00,386.41 305.75,386.37 305.50,386.33 305.25,386.29 305.00,386.25 304.75,386.26 304.50,386.28 304.25,386.29 304.00,386.30 303.75,386.31 303.50,386.32 303.25,386.34 303.00,386.35 302.75,386.36 302.50,386.38 302.25,386.39 302.00,386.40 301.75,386.41 301.50,386.43 301.25,386.44 301.00,386.45 300.75,386.46 300.50,386.48 300.25,386.49 300.00,386.50 299.75,386.51 299.50,386.53 299.25,386.54 299.00,386.55 298.75,386.54 298.50,386.53 298.25,386.51 298.00,386.50 297.75,386.49 297.50,386.48 297.25,386.46 297.00,386.45 296.75,386.44 296.50,386.43 296.25,386.41 296.00,386.40 295.75,386.39 295.50,386.38 295.25,386.36 295.00,386.35 294.75,386.34 294.50,386.32 294.25,386.31 294.00,386.30 293.75,386.29 293.50,386.28 293.25,386.26 293.00,386.25 292.75,386.33 292.50,386.42 292.25,386.50 292.00,386.58 291.75,386.67 291.50,386.75 291.25,386.83 291.00,386.92 290.75,387.00 290.50,387.08 290.25,387.17 290.00,387.25 289.75,387.25 289.50,387.25 289.25,387.26 289.00,387.26 288.75,387.26 288.50,387.26 288.25,387.26 288.00,387.26 287.75,387.27 287.50,387.27 287.25,387.27 287.00,387.27 286.75,387.27 286.50,387.28 286.25,387.28 286.00,387.28 285.75,387.28 285.50,387.28 285.25,387.28 285.00,387.29 284.75,387.29 284.50,387.29 284.25,387.29 284.00,387.29 283.75,387.30 283.50,387.30 283.25,387.30 283.00,387.30 282.75,387.30 282.50,387.30 282.25,387.31 282.00,387.31 281.75,387.31 281.50,387.31 281.25,387.31 281.00,387.32 280.75,387.32 280.50,387.32 280.25,387.32 280.00,387.32 279.75,387.32 279.50,387.33 279.25,387.33 279.00,387.33 278.75,387.33 278.50,387.33 278.25,387.34 278.00,387.34 277.75,387.34 277.50,387.34 277.25,387.34 277.00,387.35 276.75,387.35 276.50,387.35 276.25,387.35 276.00,387.35 275.75,387.35 275.50,387.36 275.25,387.36 275.00,387.36 274.75,387.36 274.50,387.36 274.25,387.37 274.00,387.37 273.75,387.37 273.50,387.37 273.25,387.37 273.00,387.37 272.75,387.38 272.50,387.38 272.25,387.38 272.00,387.38 271.75,387.38 271.50,387.39 271.25,387.39 271.00,387.39 270.75,387.39 270.50,387.39 270.25,387.39 270.00,387.40 269.75,387.40 269.50,387.40 269.25,387.40 269.00,387.40 268.75,387.41 268.50,387.41 268.25,387.41 268.00,387.41 267.75,387.41 267.50,387.41 267.25,387.42 267.00,387.42 266.75,387.42 266.50,387.42 266.25,387.42 266.00,387.43 265.75,387.43 265.50,387.43 265.25,387.43 265.00,387.43 264.75,387.43 264.50,387.44 264.25,387.44 264.00,387.44 263.75,387.44 263.50,387.44 263.25,387.45 263.00,387.45 262.75,387.45 262.50,387.45 262.25,387.45 262.00,387.45 261.75,387.46 261.50,387.46 261.25,387.46 261.00,387.46 260.75,387.46 260.50,387.47 260.25,387.47 260.00,387.47 259.75,387.47 259.50,387.47 259.25,387.48 259.00,387.48 258.75,387.48 258.50,387.48 258.25,387.48 258.00,387.48 257.75,387.49 257.50,387.49 257.25,387.49 257.00,387.49 256.75,387.49 256.50,387.50 256.25,387.50 256.00,387.50 255.75,387.50 255.50,387.50 255.25,387.50 255.00,387.51 254.75,387.51 254.50,387.51 254.25,387.51 254.00,387.51 253.75,387.52 253.50,387.52 253.25,387.52 253.00,387.52 252.75,387.52 252.50,387.52 252.25,387.53 252.00,387.53 251.75,387.53 251.50,387.53 251.25,387.53 251.00,387.54 250.75,387.54 250.50,387.54 250.25,387.54 250.00,387.54 249.75,387.54 249.50,387.55 249.25,387.55 249.00,387.55 248.75,387.13 248.50,386.72 248.25,386.30 248.00,385.88 247.75,385.47 247.50,385.05 247.25,385.05 247.00,385.05Z" fill="#0880D2"/>
<path d="M72.00,385.05 72.25,385.05 72.50,385.05 72.75,384.80 73.00,384.54 73.25,384.29 73.50,383.98 73.75,383.65 74.00,383.33 74.25,383.00 74.50,383.13 74.75,383.37 75.00,383.62 75.25,383.86 75.50,383.83 75.75,383.73 76.00,383.63 76.25,383.52 76.50,383.42 76.75,383.34 77.00,383.26 77.25,383.18 77.50,383.10 77.75,383.02 78.00,382.93 78.25,382.85 78.50,382.77 78.75,382.69 79.00,382.61 79.25,382.54 79.50,382.46 79.75,382.39 80.00,382.32 80.25,382.24 80.50,382.17 80.75,382.10 81.00,382.02 81.25,381.95 81.50,381.88 81.75,381.80 82.00,381.73 82.25,381.66 82.50,381.58 82.75,381.51 83.00,381.44 83.25,381.36 83.50,381.29 83.75,381.22 84.00,381.15 84.25,381.13 84.50,381.12 84.75,381.10 85.00,381.09 85.25,381.08 85.50,381.06 85.75,381.05 86.00,381.04 86.25,381.02 86.50,381.01 86.75,381.00 87.00,380.98 87.25,380.97 87.50,380.96 87.75,380.94 88.00,380.93 88.25,380.91 88.50,380.90 88.75,380.89 89.00,380.87 89.25,380.86 89.50,380.85 89.75,380.83 90.00,380.82 90.25,380.81 90.50,380.79 90.75,380.78 91.00,380.77 91.25,380.75 91.50,380.74 91.75,380.72 92.00,380.71 92.25,380.70 92.50,380.68 92.75,380.67 93.00,380.66 93.25,380.70 93.50,380.74 93.75,380.78 94.00,380.82 94.25,380.86 94.50,380.90 94.75,380.94 95.00,380.98 95.25,381.02 95.50,381.06 95.75,381.10 96.00,381.15 96.25,381.19 96.50,381.23 96.75,381.27 97.00,381.31 97.25,381.35 97.50,381.39 97.75,381.43 98.00,381.47 98.25,381.49 98.50,381.50 98.75,381.52 99.00,381.54 99.25,381.55 99.50,381.57 99.75,381.58 100.00,381.60 100.25,381.62 100.50,381.63 100.75,381.65 101.00,381.67 101.25,381.68 101.50,381.70 101.75,381.71 102.00,381.73 102.25,381.75 102.50,381.76 102.75,381.78 103.00,381.80 103.25,381.78 103.50,381.77 103.75,381.76 104.00,381.75 104.25,381.74 104.50,381.73 104.75,381.71 105.00,381.70 105.25,381.69 105.50,381.68 105.75,381.67 106.00,381.66 106.25,381.64 106.50,381.63 106.75,381.62 107.00,381.61 107.25,381.60 107.50,381.59 107.75,381.58 108.00,381.56 108.25,381.55 108.50,381.54 108.75,381.53 109.00,381.52 109.25,381.51 109.50,381.49 109.75,381.48 110.00,381.47 110.25,381.41 110.50,381.35 110.75,381.29 111.00,381.23 111.25,381.17 111.50,381.10 111.75,381.04 112.00,380.98 112.25,380.92 112.50,380.86 112.75,380.80 113.00,380.74 113.25,380.68 113.50,380.62 113.75,380.56 114.00,380.49 114.25,382.77 114.50,385.05 114.75,385.05 115.00,385.05 115.00,385.05 114.75,385.05 114.50,385.05 114.25,387.33 114.00,389.61 113.75,389.54 113.50,389.48 113.25,389.42 113.00,389.36 112.75,389.30 112.50,389.24 112.25,389.18 112.00,389.12 111.75,389.06 111.50,389.00 111.25,388.93 111.00,388.87 110.75,388.81 110.50,388.75 110.25,388.69 110.00,388.63 109.75,388.62 109.50,388.61 109.25,388.59 109.00,388.58 108.75,388.57 108.50,388.56 108.25,388.55 108.00,388.54 107.75,388.52 107.50,388.51 107.25,388.50 107.00,388.49 106.75,388.48 106.50,388.47 106.25,388.46 106.00,388.44 105.75,388.43 105.50,388.42 105.25,388.41 105.00,388.40 104.75,388.39 104.50,388.37 104.25,388.36 104.00,388.35 103.75,388.34 103.50,388.33 103.25,388.32 103.00,388.30 102.75,388.32 102.50,388.34 102.25,388.35 102.00,388.37 101.75,388.39 101.50,388.40 101.25,388.42 101.00,388.43 100.75,388.45 100.50,388.47 100.25,388.48 100.00,388.50 99.75,388.52 99.50,388.53 99.25,388.55 99.00,388.56 98.75,388.58 98.50,388.60 98.25,388.61 98.00,388.63 97.75,388.67 97.50,388.71 97.25,388.75 97.00,388.79 96.75,388.83 96.50,388.87 96.25,388.91 96.00,388.95 95.75,389.00 95.50,389.04 95.25,389.08 95.00,389.12 94.75,389.16 94.50,389.20 94.25,389.24 94.00,389.28 93.75,389.32 93.50,389.36 93.25,389.40 93.00,389.44 92.75,389.43 92.50,389.42 92.25,389.40 92.00,389.39 91.75,389.38 91.50,389.36 91.25,389.35 91.00,389.33 90.75,389.32 90.50,389.31 90.25,389.29 90.00,389.28 89.75,389.27 89.50,389.25 89.25,389.24 89.00,389.23 88.75,389.21 88.50,389.20 88.25,389.19 88.00,389.17 87.75,389.16 87.50,389.14 87.25,389.13 87.00,389.12 86.75,389.10 86.50,389.09 86.25,389.08 86.00,389.06 85.75,389.05 85.50,389.04 85.25,389.02 85.00,389.01 84.75,389.00 84.50,388.98 84.25,388.97 84.00,388.95 83.75,388.88 83.50,388.81 83.25,388.74 83.00,388.66 82.75,388.59 82.50,388.52 82.25,388.44 82.00,388.37 81.75,388.30 81.50,388.22 81.25,388.15 81.00,388.08 80.75,388.00 80.50,387.93 80.25,387.86 80.00,387.78 79.75,387.71 79.50,387.64 79.25,387.56 79.00,387.49 78.75,387.41 78.50,387.33 78.25,387.25 78.00,387.17 77.75,387.08 77.50,387.00 77.25,386.92 77.00,386.84 76.75,386.76 76.50,386.68 76.25,386.58 76.00,386.47 75.75,386.37 75.50,386.27 75.25,386.24 75.00,386.48 74.75,386.73 74.50,386.97 74.25,387.10 74.00,386.77 73.75,386.45 73.50,386.12 73.25,385.81 73.00,385.56 72.75,385.30 72.50,385.05 72.25,385.05 72.00,385.05Z" fill="#0880D2"/>
<path d="M74.00,382.94V387.16M103.40,381.18V388.92M110.80,381.54V388.56" stroke="#0880D2" stroke-width="1.5" stroke-linecap="round" fill="none"/><path d="M77.90,379.31V390.44M95.60,378.02V391.73M107.90,379.08V390.79" stroke="#0880D2" stroke-width="2.0" stroke-linecap="round" fill="none"/><path d="M81.80,375.56V394.30" stroke="#0880D2" stroke-width="2.3" stroke-linecap="round" fill="none"/><path d="M86.50,371.70V398.52M91.40,372.05V398.52" stroke="#0880D2" stroke-width="2.8" stroke-linecap="round" fill="none"/><path d="M100.70,369.47V401.33" stroke="#0880D2" stroke-width="1.6" stroke-linecap="round" fill="none"/><path d="M113.50,378.72V390.91" stroke="#0880D2" stroke-width="1.8" stroke-linecap="round" fill="none"/><path d="M74.00,382.12V387.98M77.90,377.08V392.53M95.60,375.29V394.32M100.70,363.41V407.67M103.40,379.68V390.42M107.90,376.75V393.02M110.80,380.17V389.93M113.50,376.26V393.19" stroke="#0880D2" stroke-width="1.1" stroke-linecap="round" fill="none"/><path d="M81.80,371.87V397.90" stroke="#0880D2" stroke-width="1.15" stroke-linecap="round" fill="none"/><path d="M86.50,366.50V403.76M91.40,366.99V403.76" stroke="#0880D2" stroke-width="1.4" stroke-linecap="round" fill="none"/>
<path d="M113.00,385.05 113.25,385.05 113.50,385.05 113.75,383.19 114.00,382.93 114.25,382.67 114.50,382.41 114.75,382.16 115.00,381.90 115.25,381.64 115.50,381.38 115.75,381.12 116.00,380.87 116.25,380.61 116.50,380.35 116.75,380.09 117.00,379.84 117.25,379.58 117.50,379.20 117.75,378.79 118.00,378.38 118.25,377.97 118.50,377.56 118.75,377.15 119.00,376.74 119.25,376.33 119.50,375.92 119.75,375.51 120.00,375.21 120.25,374.95 120.50,374.68 120.75,374.42 121.00,374.15 121.25,373.89 121.50,373.62 121.75,373.36 122.00,373.09 122.25,372.83 122.50,372.56 122.75,372.29 123.00,371.97 123.25,371.65 123.50,371.33 123.75,371.01 124.00,370.69 124.25,370.37 124.50,370.04 124.75,369.72 125.00,369.40 125.25,369.08 125.50,368.76 125.75,368.56 126.00,368.37 126.25,368.17 126.50,367.97 126.75,367.77 127.00,367.57 127.25,367.37 127.50,367.17 127.75,366.97 128.00,366.77 128.25,366.57 128.50,366.37 128.75,366.23 129.00,366.10 129.25,365.96 129.50,365.82 129.75,365.68 130.00,365.54 130.25,365.40 130.50,365.27 130.75,365.13 131.00,364.99 131.25,364.85 131.50,364.71 131.75,364.57 132.00,364.44 132.25,364.35 132.50,364.26 132.75,364.17 133.00,364.08 133.25,364.00 133.50,363.91 133.75,363.82 134.00,363.73 134.25,363.64 134.50,363.56 134.75,363.47 135.00,363.38 135.25,363.29 135.50,363.47 135.75,364.05 136.00,364.63 136.25,365.20 136.50,365.78 136.75,366.36 137.00,366.94 137.25,367.51 137.50,368.09 137.75,368.67 138.00,369.24 138.25,369.82 138.50,370.40 138.75,370.98 139.00,371.55 139.25,371.89 139.50,372.23 139.75,372.57 140.00,372.91 140.25,373.25 140.50,373.59 140.75,373.93 141.00,374.27 141.25,374.61 141.50,374.95 141.75,374.90 142.00,374.59 142.25,374.27 142.50,373.96 142.75,373.65 143.00,373.34 143.25,373.02 143.50,372.71 143.75,372.40 144.00,372.09 144.25,371.92 144.50,372.33 144.75,372.74 145.00,373.15 145.25,373.57 145.50,373.98 145.75,374.39 146.00,374.80 146.25,375.21 146.50,375.62 146.75,376.03 147.00,376.44 147.25,376.86 147.50,377.27 147.75,377.68 148.00,378.00 148.25,378.30 148.50,378.60 148.75,378.90 149.00,379.21 149.25,379.51 149.50,379.81 149.75,380.11 150.00,380.41 150.25,380.71 150.50,381.01 150.75,381.31 151.00,381.61 151.25,381.91 151.50,381.69 151.75,381.34 152.00,380.99 152.25,380.64 152.50,380.29 152.75,379.94 153.00,379.59 153.25,379.24 153.50,378.89 153.75,378.54 154.00,378.18 154.25,377.83 154.50,377.48 154.75,377.13 155.00,376.78 155.25,376.43 155.50,376.08 155.75,375.66 156.00,375.20 156.25,374.75 156.50,374.29 156.75,374.26 157.00,374.23 157.25,374.21 157.50,374.18 157.75,374.15 158.00,374.12 158.25,374.10 158.50,374.07 158.75,374.04 159.00,374.01 159.25,374.12 159.50,374.32 159.75,374.51 160.00,374.71 160.25,374.90 160.50,375.10 160.75,375.29 161.00,375.49 161.25,375.69 161.50,375.88 161.75,376.08 162.00,376.27 162.25,376.47 162.50,376.54 162.75,376.59 163.00,376.64 163.25,376.68 163.50,376.73 163.75,376.77 164.00,376.82 164.25,376.87 164.50,376.91 164.75,376.96 165.00,377.00 165.25,377.05 165.50,377.10 165.75,377.17 166.00,377.23 166.25,377.30 166.50,377.36 166.75,377.43 167.00,377.49 167.25,377.56 167.50,377.62 167.75,377.69 168.00,377.75 168.25,377.82 168.50,377.88 168.75,377.94 169.00,377.98 169.25,378.02 169.50,378.06 169.75,378.09 170.00,378.13 170.25,378.17 170.50,378.21 170.75,378.25 171.00,378.29 171.25,378.33 171.50,378.37 171.75,378.41 172.00,378.44 172.25,378.34 172.50,378.24 172.75,378.14 173.00,378.03 173.25,377.93 173.50,377.83 173.75,377.72 174.00,377.62 174.25,377.52 174.50,377.41 174.75,377.31 175.00,377.21 175.25,377.11 175.50,377.00 175.75,376.90 176.00,376.80 176.25,376.69 176.50,376.59 176.75,376.49 177.00,376.38 177.25,376.28 177.50,376.18 177.75,376.07 178.00,375.97 178.25,375.87 178.50,375.77 178.75,375.66 179.00,375.56 179.25,375.46 179.50,375.35 179.75,375.25 180.00,375.15 180.25,375.04 180.50,374.94 180.75,374.89 181.00,375.04 181.25,375.20 181.50,375.36 181.75,375.51 182.00,375.67 182.25,375.82 182.50,375.98 182.75,376.14 183.00,376.29 183.25,376.45 183.50,376.61 183.75,376.76 184.00,377.23 184.25,377.77 184.50,378.31 184.75,378.85 185.00,379.39 185.25,379.93 185.50,380.47 185.75,381.01 186.00,381.55 186.25,382.09 186.50,382.64 186.75,383.18 187.00,383.72 187.25,384.26 187.25,385.85 187.00,386.41 186.75,386.97 186.50,387.53 186.25,388.09 186.00,388.65 185.75,389.21 185.50,389.77 185.25,390.34 185.00,390.90 184.75,391.46 184.50,392.02 184.25,392.58 184.00,393.14 183.75,393.62 183.50,393.78 183.25,393.95 183.00,394.11 182.75,394.27 182.50,394.43 182.25,394.59 182.00,394.75 181.75,394.91 181.50,395.07 181.25,395.23 181.00,395.39 180.75,395.55 180.50,395.46 180.25,395.30 180.00,395.14 179.75,394.98 179.50,394.82 179.25,394.66 179.00,394.50 178.75,394.34 178.50,394.18 178.25,394.02 178.00,393.86 177.75,393.69 177.50,393.53 177.25,393.37 177.00,393.21 176.75,393.05 176.50,393.01 176.25,393.00 176.00,392.98 175.75,392.96 175.50,392.95 175.25,392.93 175.00,392.92 174.75,392.90 174.50,392.89 174.25,392.87 174.00,392.86 173.75,392.84 173.50,392.83 173.25,392.81 173.00,392.80 172.75,392.78 172.50,392.77 172.25,392.75 172.00,392.74 171.75,392.63 171.50,392.52 171.25,392.41 171.00,392.31 170.75,392.20 170.50,392.09 170.25,391.98 170.00,391.87 169.75,391.77 169.50,391.66 169.25,391.55 169.00,391.44 168.75,391.34 168.50,391.37 168.25,391.43 168.00,391.50 167.75,391.56 167.50,391.62 167.25,391.69 167.00,391.75 166.75,391.82 166.50,391.88 166.25,391.95 166.00,392.01 165.75,392.08 165.50,392.14 165.25,392.24 165.00,392.35 164.75,392.47 164.50,392.58 164.25,392.70 164.00,392.81 163.75,392.93 163.50,393.04 163.25,393.16 163.00,393.27 162.75,393.39 162.50,393.50 162.25,393.63 162.00,393.85 161.75,394.06 161.50,394.28 161.25,394.49 161.00,394.70 160.75,394.92 160.50,395.13 160.25,395.34 160.00,395.56 159.75,395.77 159.50,395.98 159.25,396.20 159.00,396.33 158.75,396.33 158.50,396.33 158.25,396.33 158.00,396.33 157.75,396.33 157.50,396.33 157.25,396.33 157.00,396.33 156.75,396.33 156.50,396.33 156.25,396.20 156.00,396.07 155.75,395.95 155.50,395.72 155.25,395.34 155.00,394.96 154.75,394.58 154.50,394.19 154.25,393.81 154.00,393.43 153.75,393.05 153.50,392.67 153.25,392.29 153.00,391.91 152.75,391.53 152.50,391.15 152.25,390.77 152.00,390.39 151.75,390.01 151.50,389.63 151.25,389.36 151.00,389.56 150.75,389.77 150.50,389.97 150.25,390.18 150.00,390.38 149.75,390.58 149.50,390.79 149.25,390.99 149.00,391.19 148.75,391.40 148.50,391.60 148.25,391.80 148.00,392.01 147.75,392.26 147.50,392.69 147.25,393.13 147.00,393.56 146.75,394.00 146.50,394.43 146.25,394.87 146.00,395.30 145.75,395.74 145.50,396.17 145.25,396.61 145.00,397.04 144.75,397.48 144.50,397.91 144.25,398.35 144.00,398.17 143.75,397.84 143.50,397.51 143.25,397.18 143.00,396.86 142.75,396.53 142.50,396.20 142.25,395.87 142.00,395.54 141.75,395.21 141.50,395.16 141.25,395.51 141.00,395.87 140.75,396.23 140.50,396.58 140.25,396.94 140.00,397.29 139.75,397.65 139.50,398.00 139.25,398.36 139.00,398.72 138.75,399.22 138.50,399.71 138.25,400.21 138.00,400.71 137.75,401.21 137.50,401.71 137.25,402.20 137.00,402.70 136.75,403.20 136.50,403.70 136.25,404.20 136.00,404.70 135.75,405.19 135.50,405.69 135.25,405.90 135.00,405.92 134.75,405.94 134.50,405.95 134.25,405.97 134.00,405.99 133.75,406.00 133.50,406.02 133.25,406.04 133.00,406.05 132.75,406.07 132.50,406.09 132.25,406.10 132.00,406.12 131.75,405.96 131.50,405.79 131.25,405.63 131.00,405.47 130.75,405.31 130.50,405.14 130.25,404.98 130.00,404.82 129.75,404.66 129.50,404.49 129.25,404.33 129.00,404.17 128.75,404.00 128.50,403.84 128.25,403.65 128.00,403.46 127.75,403.27 127.50,403.08 127.25,402.89 127.00,402.70 126.75,402.51 126.50,402.32 126.25,402.13 126.00,401.94 125.75,401.75 125.50,401.56 125.25,401.21 125.00,400.85 124.75,400.50 124.50,400.14 124.25,399.78 124.00,399.43 123.75,399.07 123.50,398.72 123.25,398.36 123.00,398.00 122.75,397.65 122.50,397.35 122.25,397.07 122.00,396.79 121.75,396.51 121.50,396.23 121.25,395.95 121.00,395.68 120.75,395.40 120.50,395.12 120.25,394.84 120.00,394.56 119.75,394.21 119.50,393.63 119.25,393.04 119.00,392.46 118.75,391.87 118.50,391.28 118.25,390.70 118.00,390.11 117.75,389.52 117.50,388.94 117.25,388.44 117.00,388.33 116.75,388.21 116.50,388.10 116.25,387.98 116.00,387.87 115.75,387.75 115.50,387.64 115.25,387.52 115.00,387.40 114.75,387.29 114.50,387.17 114.25,387.06 114.00,386.94 113.75,386.83 113.50,385.05 113.25,385.05 113.00,385.05Z" fill="#0880D2"/><polyline points="113.00,385.05 113.80,390.19 114.60,379.41 115.40,390.27 116.20,372.51 117.00,394.42 117.80,372.00 118.60,398.35 119.40,359.43 120.20,412.85 121.00,362.64 121.80,408.75 122.60,349.07 123.40,423.69 124.20,354.97 125.00,417.56 125.80,337.83 126.60,434.62 127.40,348.43 128.20,423.24 129.00,330.89 129.80,441.16 130.60,344.24 131.40,427.59 132.20,325.95 133.00,445.06 133.80,341.34 134.60,428.03 135.40,322.74 136.20,440.04 137.00,347.79 137.80,418.08 138.60,343.85 139.40,422.47 140.20,360.64 141.00,407.31 141.80,355.86 142.60,417.28 143.40,359.93 144.20,412.58 145.00,351.06 145.80,415.33 146.60,365.99 147.40,401.12 148.20,365.60 149.00,402.60 149.80,375.01 150.60,395.01 151.40,375.86 152.20,401.17 153.00,373.82 153.80,401.67 154.60,363.03 155.40,415.09 156.20,364.04 157.00,408.24 157.80,353.89 158.60,417.26 159.40,362.81 160.20,406.31 161.00,357.74 161.80,410.68 162.60,367.59 163.40,401.58 164.20,361.64 165.00,405.91 165.80,368.86 166.60,399.05 167.40,363.75 168.20,403.32 169.00,370.50 169.80,398.91 170.60,365.56 171.40,406.27 172.20,371.29 173.00,400.99 173.80,364.06 174.60,407.46 175.40,368.58 176.20,401.39 177.00,360.29 177.80,409.84 178.60,365.86 179.40,405.01 180.20,356.52 181.00,414.60 181.80,365.49 182.60,404.21 183.40,360.74 184.20,406.89 185.00,373.41 185.80,393.38 186.60,378.77 187.40,385.05" fill="none" stroke="#0880D2" stroke-width="1.1" stroke-linejoin="round"/>
<path d="M187.00,385.05 187.25,385.05 187.50,383.95 187.75,383.59 188.00,383.23 188.25,382.87 188.50,382.51 188.75,382.15 189.00,381.80 189.25,381.59 189.50,381.39 189.75,381.19 190.00,380.98 190.25,380.78 190.50,380.58 190.75,380.37 191.00,380.17 191.25,379.97 191.50,379.76 191.75,379.56 192.00,379.36 192.25,379.36 192.50,379.36 192.75,379.36 193.00,379.36 193.25,379.36 193.50,379.36 193.75,379.36 194.00,379.36 194.25,379.36 194.50,379.36 194.75,379.36 195.00,379.36 195.25,379.36 195.50,379.36 195.75,379.36 196.00,379.36 196.25,379.36 196.50,379.36 196.75,379.36 197.00,379.36 197.25,379.36 197.50,379.36 197.75,379.36 198.00,379.36 198.25,379.53 198.50,379.71 198.75,379.88 199.00,380.06 199.25,380.24 199.50,380.41 199.75,380.59 200.00,380.77 200.25,380.94 200.50,381.12 200.75,381.29 201.00,381.47 201.25,381.61 201.50,381.74 201.75,381.88 202.00,382.01 202.25,382.15 202.50,382.28 202.75,382.42 203.00,382.56 203.25,382.69 203.50,382.83 203.75,382.96 204.00,383.10 204.25,383.10 204.50,383.10 204.75,383.10 205.00,383.10 205.25,383.10 205.50,383.10 205.75,383.10 206.00,383.10 206.25,383.10 206.50,383.10 206.75,382.89 207.00,382.67 207.25,382.46 207.50,382.25 207.75,382.04 208.00,381.83 208.25,381.62 208.50,381.41 208.75,381.19 209.00,380.98 209.25,380.96 209.50,380.94 209.75,380.91 210.00,380.89 210.25,380.87 210.50,380.85 210.75,380.82 211.00,380.80 211.25,380.78 211.50,380.76 211.75,380.73 212.00,380.71 212.25,380.69 212.50,380.67 212.75,380.64 213.00,380.62 213.25,380.60 213.50,380.58 213.75,380.55 214.00,380.53 214.25,380.51 214.50,380.49 214.75,380.46 215.00,380.44 215.25,380.42 215.50,380.39 215.75,380.37 216.00,380.35 216.25,380.33 216.50,380.30 216.75,380.28 217.00,380.26 217.25,380.24 217.50,380.21 217.75,380.19 218.00,380.17 218.25,380.33 218.50,380.49 218.75,380.66 219.00,380.82 219.25,380.98 219.50,381.15 219.75,381.31 220.00,381.47 220.25,381.63 220.50,381.80 220.75,381.96 221.00,382.12 221.25,382.30 221.50,382.47 221.75,382.65 222.00,382.83 222.25,383.00 222.50,383.18 222.75,383.36 223.00,383.53 223.25,383.71 223.50,383.88 223.75,384.06 224.00,384.24 224.25,384.09 224.50,383.95 224.75,383.81 225.00,383.67 225.25,383.52 225.50,383.38 225.75,383.24 226.00,383.10 226.25,382.97 226.50,382.83 226.75,382.70 227.00,382.57 227.25,382.44 227.50,382.30 227.75,382.17 228.00,382.04 228.25,381.91 228.50,381.78 228.75,381.64 229.00,381.51 229.25,381.38 229.50,381.25 229.75,381.11 230.00,380.98 230.25,380.97 230.50,380.96 230.75,380.94 231.00,380.93 231.25,380.91 231.50,380.90 231.75,380.89 232.00,380.87 232.25,380.86 232.50,380.85 232.75,380.83 233.00,380.82 233.25,380.81 233.50,380.79 233.75,380.78 234.00,380.77 234.25,380.75 234.50,380.74 234.75,380.72 235.00,380.71 235.25,380.70 235.50,380.68 235.75,380.67 236.00,380.66 236.25,380.64 236.50,380.63 236.75,380.62 237.00,380.60 237.25,380.59 237.50,380.58 237.75,380.56 238.00,380.55 238.25,380.54 238.50,380.52 238.75,380.51 239.00,380.49 239.25,380.48 239.50,380.47 239.75,380.45 240.00,380.44 240.25,380.43 240.50,380.41 240.75,380.40 241.00,380.39 241.25,380.37 241.50,380.36 241.75,380.35 242.00,380.33 242.25,380.32 242.50,380.30 242.75,380.29 243.00,380.28 243.25,380.26 243.50,380.25 243.75,380.24 244.00,380.22 244.25,380.21 244.50,380.20 244.75,380.18 245.00,380.17 245.25,380.49 245.50,380.82 245.75,381.15 246.00,381.47 246.25,381.80 246.50,382.12 246.75,382.45 247.00,382.77 247.25,383.10 247.50,383.42 247.75,383.59 248.00,383.75 248.25,383.91 248.50,384.07 248.75,384.24 249.00,384.40 249.25,384.56 249.50,384.72 249.75,384.89 250.00,385.05 250.25,385.05 250.50,385.05 250.50,385.05 250.25,385.05 250.00,385.05 249.75,385.21 249.50,385.38 249.25,385.54 249.00,385.70 248.75,385.86 248.50,386.03 248.25,386.19 248.00,386.35 247.75,386.51 247.50,386.68 247.25,387.00 247.00,387.33 246.75,387.65 246.50,387.98 246.25,388.30 246.00,388.63 245.75,388.95 245.50,389.28 245.25,389.61 245.00,389.93 244.75,389.92 244.50,389.90 244.25,389.89 244.00,389.88 243.75,389.86 243.50,389.85 243.25,389.84 243.00,389.82 242.75,389.81 242.50,389.80 242.25,389.78 242.00,389.77 241.75,389.75 241.50,389.74 241.25,389.73 241.00,389.71 240.75,389.70 240.50,389.69 240.25,389.67 240.00,389.66 239.75,389.65 239.50,389.63 239.25,389.62 239.00,389.61 238.75,389.59 238.50,389.58 238.25,389.56 238.00,389.55 237.75,389.54 237.50,389.52 237.25,389.51 237.00,389.50 236.75,389.48 236.50,389.47 236.25,389.46 236.00,389.44 235.75,389.43 235.50,389.42 235.25,389.40 235.00,389.39 234.75,389.38 234.50,389.36 234.25,389.35 234.00,389.33 233.75,389.32 233.50,389.31 233.25,389.29 233.00,389.28 232.75,389.27 232.50,389.25 232.25,389.24 232.00,389.23 231.75,389.21 231.50,389.20 231.25,389.19 231.00,389.17 230.75,389.16 230.50,389.14 230.25,389.13 230.00,389.12 229.75,388.99 229.50,388.85 229.25,388.72 229.00,388.59 228.75,388.46 228.50,388.32 228.25,388.19 228.00,388.06 227.75,387.93 227.50,387.80 227.25,387.66 227.00,387.53 226.75,387.40 226.50,387.27 226.25,387.13 226.00,387.00 225.75,386.86 225.50,386.72 225.25,386.58 225.00,386.43 224.75,386.29 224.50,386.15 224.25,386.01 224.00,385.86 223.75,386.04 223.50,386.22 223.25,386.39 223.00,386.57 222.75,386.74 222.50,386.92 222.25,387.10 222.00,387.27 221.75,387.45 221.50,387.63 221.25,387.80 221.00,387.98 220.75,388.14 220.50,388.30 220.25,388.47 220.00,388.63 219.75,388.79 219.50,388.95 219.25,389.12 219.00,389.28 218.75,389.44 218.50,389.61 218.25,389.77 218.00,389.93 217.75,389.91 217.50,389.89 217.25,389.86 217.00,389.84 216.75,389.82 216.50,389.80 216.25,389.77 216.00,389.75 215.75,389.73 215.50,389.71 215.25,389.68 215.00,389.66 214.75,389.64 214.50,389.61 214.25,389.59 214.00,389.57 213.75,389.55 213.50,389.52 213.25,389.50 213.00,389.48 212.75,389.46 212.50,389.43 212.25,389.41 212.00,389.39 211.75,389.37 211.50,389.34 211.25,389.32 211.00,389.30 210.75,389.28 210.50,389.25 210.25,389.23 210.00,389.21 209.75,389.19 209.50,389.16 209.25,389.14 209.00,389.12 208.75,388.91 208.50,388.69 208.25,388.48 208.00,388.27 207.75,388.06 207.50,387.85 207.25,387.64 207.00,387.43 206.75,387.21 206.50,387.00 206.25,387.00 206.00,387.00 205.75,387.00 205.50,387.00 205.25,387.00 205.00,387.00 204.75,387.00 204.50,387.00 204.25,387.00 204.00,387.00 203.75,387.14 203.50,387.27 203.25,387.41 203.00,387.54 202.75,387.68 202.50,387.82 202.25,387.95 202.00,388.09 201.75,388.22 201.50,388.36 201.25,388.49 201.00,388.63 200.75,388.81 200.50,388.98 200.25,389.16 200.00,389.33 199.75,389.51 199.50,389.69 199.25,389.86 199.00,390.04 198.75,390.22 198.50,390.39 198.25,390.57 198.00,390.74 197.75,390.74 197.50,390.74 197.25,390.74 197.00,390.74 196.75,390.74 196.50,390.74 196.25,390.74 196.00,390.74 195.75,390.74 195.50,390.74 195.25,390.74 195.00,390.74 194.75,390.74 194.50,390.74 194.25,390.74 194.00,390.74 193.75,390.74 193.50,390.74 193.25,390.74 193.00,390.74 192.75,390.74 192.50,390.74 192.25,390.74 192.00,390.74 191.75,390.54 191.50,390.34 191.25,390.13 191.00,389.93 190.75,389.73 190.50,389.52 190.25,389.32 190.00,389.12 189.75,388.91 189.50,388.71 189.25,388.51 189.00,388.30 188.75,387.95 188.50,387.59 188.25,387.23 188.00,386.87 187.75,386.51 187.50,386.15 187.25,385.05 187.00,385.05Z" fill="#0880D2"/>
<path d="M191.70,372.52V394.96M195.60,367.40V403.27M199.00,372.52V397.46M203.60,379.58V390.63M206.70,381.75V388.13M209.70,377.53V392.45M213.50,372.75V397.46M216.90,372.75V396.78M220.40,378.22V391.66M227.10,380.95V388.81M231.10,378.22V391.66M235.70,376.05V393.93M240.30,373.09V396.78M243.90,375.26V394.96M247.40,381.75V387.90" stroke="#0880D2" stroke-width="1.8" stroke-linecap="round" fill="none"/><path d="M191.70,367.15V399.20M195.60,359.83V411.08M199.00,367.15V402.78M203.60,377.24V393.02M206.70,380.33V389.44M209.70,374.31V395.63M213.50,367.48V402.78M216.90,367.48V401.81M220.40,375.29V394.49M227.10,379.19V390.42M231.10,375.29V394.49M235.70,372.20V397.74M240.30,367.97V401.81M243.90,371.06V399.20M247.40,380.33V389.12" stroke="#0880D2" stroke-width="1.2" stroke-linecap="round" fill="none"/><path d="M193.65,375.21V392.84M197.30,375.21V394.80M201.30,380.75V389.43M205.15,382.45V387.47M208.20,382.45V387.47M211.60,379.14V390.87M215.20,375.39V394.27M218.65,379.68V390.24M229.10,381.83V388.00M233.40,379.68V390.24M238.00,377.98V392.03M242.10,377.35V392.84M245.65,382.45V387.29" stroke="#0880D2" stroke-width="1.0" stroke-linecap="round" fill="none"/>
<rect x="58.3" y="13.3" width="475.70" height="139.20" fill="none" stroke="#6e6e6e" stroke-width="1.1"/><rect x="58.3" y="168.5" width="475.70" height="134.30" fill="none" stroke="#6e6e6e" stroke-width="1.1"/><rect x="57.7" y="319.9" width="478.00" height="130.40" fill="none" stroke="#6e6e6e" stroke-width="1.1"/>
<path d="M58.30,152.50v-4.8M58.30,13.30v4.8M153.44,152.50v-4.8M153.44,13.30v4.8M248.58,152.50v-4.8M248.58,13.30v4.8M343.72,152.50v-4.8M343.72,13.30v4.8M438.86,152.50v-4.8M438.86,13.30v4.8M534.00,152.50v-4.8M534.00,13.30v4.8M58.30,31.00h4.8M534.00,31.00h-4.8M58.30,131.60h4.8M534.00,131.60h-4.8M58.30,302.80v-4.8M58.30,168.50v4.8M153.44,302.80v-4.8M153.44,168.50v4.8M248.58,302.80v-4.8M248.58,168.50v4.8M343.72,302.80v-4.8M343.72,168.50v4.8M438.86,302.80v-4.8M438.86,168.50v4.8M534.00,302.80v-4.8M534.00,168.50v4.8M57.70,450.30v-4.8M57.70,319.90v4.8M153.30,450.30v-4.8M153.30,319.90v4.8M248.90,450.30v-4.8M248.90,319.90v4.8M344.50,450.30v-4.8M344.50,319.90v4.8M440.10,450.30v-4.8M440.10,319.90v4.8M535.70,450.30v-4.8M535.70,319.90v4.8M57.70,352.50h4.8M535.70,352.50h-4.8M57.70,417.60h4.8M535.70,417.60h-4.8" stroke="#6e6e6e" stroke-width="1.1" fill="none"/>
<g font-family="'Liberation Sans', Arial, sans-serif" fill="#141414">
<text x="51.3" y="30.50" font-size="15" text-anchor="end" dominant-baseline="central">20</text>
<text x="51.3" y="81.00" font-size="15" text-anchor="end" dominant-baseline="central">0</text>
<text x="51.3" y="131.10" font-size="15" text-anchor="end" dominant-baseline="central">-20</text>
<text x="51.3" y="168.10" font-size="15" text-anchor="end" dominant-baseline="central">10</text>
<text x="51.3" y="235.30" font-size="15" text-anchor="end" dominant-baseline="central">0</text>
<text x="51.3" y="302.40" font-size="15" text-anchor="end" dominant-baseline="central">-10</text>
<text x="51.6" y="320.70" font-size="17.5" text-anchor="end" dominant-baseline="central">4</text>
<text x="51.6" y="353.10" font-size="17.5" text-anchor="end" dominant-baseline="central">2</text>
<text x="51.6" y="385.60" font-size="17.5" text-anchor="end" dominant-baseline="central">0</text>
<text x="51.6" y="418.10" font-size="17.5" text-anchor="end" dominant-baseline="central">-2</text>
<text x="51.6" y="450.50" font-size="17.5" text-anchor="end" dominant-baseline="central">-4</text>
<text x="57.40" y="474" font-size="17.7" text-anchor="middle">0</text>
<text x="153.00" y="474" font-size="17.7" text-anchor="middle">5</text>
<text x="248.60" y="474" font-size="17.7" text-anchor="middle">10</text>
<text x="344.20" y="474" font-size="17.7" text-anchor="middle">15</text>
<text x="439.80" y="474" font-size="17.7" text-anchor="middle">20</text>
<text x="535.40" y="474" font-size="17.7" text-anchor="middle">25</text>
<text x="296.5" y="499" font-size="18.6" text-anchor="middle">Time (ns)</text>
<text transform="translate(22.3,82.1) rotate(-90)" font-size="17.0" text-anchor="middle">Amplitude (mV)</text>
<text transform="translate(21.9,236.05) rotate(-90)" font-size="16.4" text-anchor="middle">Amplitude (mV)</text>
<text transform="translate(27.8,383.75) rotate(-90)" font-size="18.9" text-anchor="middle">Amplitude (mV)</text>
</g>
<g font-family="'Liberation Serif', 'Times New Roman', serif" fill="#000" stroke="#000" stroke-width="0.12">
<text x="356.3" y="128.2" font-size="19.5">Antenna reflection</text>
<text x="303.8" y="281.5" font-size="19.55">Tag structural mode RCS</text>
<text x="316.2" y="432.2" font-size="19.45">Tag antenna mode RCS</text>
</g>
</svg>
</body></html>
